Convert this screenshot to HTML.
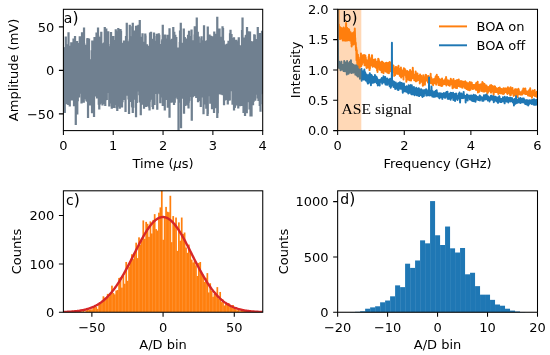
<!DOCTYPE html>
<html><head><meta charset="utf-8"><title>figure</title>
<style>html,body{margin:0;padding:0;background:#fff;width:550px;height:355px;overflow:hidden}svg{display:block}</style>
</head><body>
<svg width="550" height="355" viewBox="0 0 550 355" font-family="'DejaVu Sans', sans-serif" fill="#000"><rect width="550" height="355" fill="#fff"/>
<defs><clipPath id="clipa"><rect x="63.4" y="9.3" width="199.3" height="121.3"/></clipPath><clipPath id="clipb"><rect x="337.65" y="9.3" width="199.85" height="121.3"/></clipPath><clipPath id="clipc"><rect x="63.4" y="190.8" width="199.35" height="121.45"/></clipPath><clipPath id="clipd"><rect x="337.65" y="190.8" width="199.85" height="121.45"/></clipPath></defs>
<path d="M63.4 47.33L63.65 47.33L63.65 47.33L63.9 47.33L63.9 47.33L64.15 47.33L64.15 47.33L64.4 47.33L64.4 47.02L64.65 47.02L64.65 36.41L64.9 36.41L64.9 36.41L65.15 36.41L65.15 36.41L65.4 36.41L65.4 36.41L65.65 36.41L65.65 36.41L65.9 36.41L65.9 36.41L66.15 36.41L66.15 36.41L66.4 36.41L66.4 36.41L66.65 36.41L66.65 36.41L66.9 36.41L66.9 44.3L67.15 44.3L67.15 44.3L67.4 44.3L67.4 32.37L67.65 32.37L67.65 32.37L67.9 32.37L67.9 32.37L68.15 32.37L68.15 32.37L68.4 32.37L68.4 32.37L68.65 32.37L68.65 32.37L68.9 32.37L68.9 32.37L69.15 32.37L69.15 32.37L69.4 32.37L69.4 32.37L69.65 32.37L69.65 45.65L69.9 45.65L69.9 45.65L70.15 45.65L70.15 42.14L70.4 42.14L70.4 42.14L70.65 42.14L70.65 42.14L70.9 42.14L70.9 42.14L71.15 42.14L71.15 42.14L71.4 42.14L71.4 42.14L71.65 42.14L71.65 42.14L71.9 42.14L71.9 42.14L72.15 42.14L72.15 42.14L72.4 42.14L72.4 38.42L72.65 38.42L72.65 38.42L72.9 38.42L72.9 38.42L73.15 38.42L73.15 38.42L73.4 38.42L73.4 38.42L73.65 38.42L73.65 38.42L73.9 38.42L73.9 36L74.15 36L74.15 36L74.4 36L74.4 36L74.65 36L74.65 36L74.9 36L74.9 36L75.15 36L75.15 36L75.4 36L75.4 36L75.65 36L75.65 36L75.9 36L75.9 36L76.15 36L76.15 41.02L76.4 41.02L76.4 41.02L76.65 41.02L76.65 41.02L76.9 41.02L76.9 41.02L77.15 41.02L77.15 41.02L77.4 41.02L77.4 41.02L77.65 41.02L77.65 41.02L77.9 41.02L77.9 41.02L78.15 41.02L78.15 42.99L78.4 42.99L78.4 42.99L78.65 42.99L78.65 36.16L78.9 36.16L78.9 36.16L79.15 36.16L79.15 36.16L79.4 36.16L79.4 36.16L79.65 36.16L79.65 36.16L79.9 36.16L79.9 36.16L80.15 36.16L80.15 36.16L80.4 36.16L80.4 36.16L80.65 36.16L80.65 36.16L80.9 36.16L80.9 32.16L81.15 32.16L81.15 32.16L81.4 32.16L81.4 32.16L81.65 32.16L81.65 32.16L81.9 32.16L81.9 32.16L82.15 32.16L82.15 32.16L82.4 32.16L82.4 32.16L82.65 32.16L82.65 32.16L82.9 32.16L82.9 27.54L83.15 27.54L83.15 27.54L83.4 27.54L83.4 27.54L83.65 27.54L83.65 27.54L83.9 27.54L83.9 27.54L84.15 27.54L84.15 27.54L84.4 27.54L84.4 27.54L84.65 27.54L84.65 27.54L84.9 27.54L84.9 27.54L85.15 27.54L85.15 43.24L85.4 43.24L85.4 44.71L85.65 44.71L85.65 44.71L85.9 44.71L85.9 44.71L86.15 44.71L86.15 38.71L86.4 38.71L86.4 37.94L86.65 37.94L86.65 37.94L86.9 37.94L86.9 37.94L87.15 37.94L87.15 37.94L87.4 37.94L87.4 37.94L87.65 37.94L87.65 37.94L87.9 37.94L87.9 37.94L88.15 37.94L88.15 37.94L88.4 37.94L88.4 37.94L88.65 37.94L88.65 38.62L88.9 38.62L88.9 38.62L89.15 38.62L89.15 38.62L89.4 38.62L89.4 38.62L89.65 38.62L89.65 38.62L89.9 38.62L89.9 38.62L90.15 38.62L90.15 59.46L90.4 59.46L90.4 58.95L90.65 58.95L90.65 50.15L90.9 50.15L90.9 50.15L91.15 50.15L91.15 40.59L91.4 40.59L91.4 40.59L91.65 40.59L91.65 40.59L91.9 40.59L91.9 40.59L92.15 40.59L92.15 40.59L92.4 40.59L92.4 40.59L92.65 40.59L92.65 40.59L92.9 40.59L92.9 40.59L93.15 40.59L93.15 40.59L93.4 40.59L93.4 37.12L93.65 37.12L93.65 37.12L93.9 37.12L93.9 37.12L94.15 37.12L94.15 37.12L94.4 37.12L94.4 37.12L94.65 37.12L94.65 37.12L94.9 37.12L94.9 37.12L95.15 37.12L95.15 37.12L95.4 37.12L95.4 32.47L95.65 32.47L95.65 32.47L95.9 32.47L95.9 32.47L96.15 32.47L96.15 32.47L96.4 32.47L96.4 32.47L96.65 32.47L96.65 32.47L96.9 32.47L96.9 27.62L97.15 27.62L97.15 27.62L97.4 27.62L97.4 27.62L97.65 27.62L97.65 27.62L97.9 27.62L97.9 27.62L98.15 27.62L98.15 27.62L98.4 27.62L98.4 27.62L98.65 27.62L98.65 27.62L98.9 27.62L98.9 27.62L99.15 27.62L99.15 35.47L99.4 35.47L99.4 36.74L99.65 36.74L99.65 36.74L99.9 36.74L99.9 36.74L100.15 36.74L100.15 31.78L100.4 31.78L100.4 31.78L100.65 31.78L100.65 31.78L100.9 31.78L100.9 31.78L101.15 31.78L101.15 31.78L101.4 31.78L101.4 31.78L101.65 31.78L101.65 31.78L101.9 31.78L101.9 31.78L102.15 31.78L102.15 31.78L102.4 31.78L102.4 43.25L102.65 43.25L102.65 43.25L102.9 43.25L102.9 42.47L103.15 42.47L103.15 42.47L103.4 42.47L103.4 42.47L103.65 42.47L103.65 26.97L103.9 26.97L103.9 26.97L104.15 26.97L104.15 26.97L104.4 26.97L104.4 26.97L104.65 26.97L104.65 26.97L104.9 26.97L104.9 26.97L105.15 26.97L105.15 26.97L105.4 26.97L105.4 26.97L105.65 26.97L105.65 26.97L105.9 26.97L105.9 28.38L106.15 28.38L106.15 28.38L106.4 28.38L106.4 28.38L106.65 28.38L106.65 28.38L106.9 28.38L106.9 28.38L107.15 28.38L107.15 28.38L107.4 28.38L107.4 31.25L107.65 31.25L107.65 31.25L107.9 31.25L107.9 31.25L108.15 31.25L108.15 31.25L108.4 31.25L108.4 31.25L108.65 31.25L108.65 31.25L108.9 31.25L108.9 31.25L109.15 31.25L109.15 31.25L109.4 31.25L109.4 43.9L109.65 43.9L109.65 46.2L109.9 46.2L109.9 31.94L110.15 31.94L110.15 31.94L110.4 31.94L110.4 31.94L110.65 31.94L110.65 31.94L110.9 31.94L110.9 31.94L111.15 31.94L111.15 31.94L111.4 31.94L111.4 31.94L111.65 31.94L111.65 31.94L111.9 31.94L111.9 31.94L112.15 31.94L112.15 36.07L112.4 36.07L112.4 36.07L112.65 36.07L112.65 36.07L112.9 36.07L112.9 36.07L113.15 36.07L113.15 36.07L113.4 36.07L113.4 36.07L113.65 36.07L113.65 36.07L113.9 36.07L113.9 36.07L114.15 36.07L114.15 36.07L114.4 36.07L114.4 40.11L114.65 40.11L114.65 29.14L114.9 29.14L114.9 29.14L115.15 29.14L115.15 29.14L115.4 29.14L115.4 29.14L115.65 29.14L115.65 29.14L115.9 29.14L115.9 29.14L116.15 29.14L116.15 29.14L116.4 29.14L116.4 29.14L116.65 29.14L116.65 29.14L116.9 29.14L116.9 31.31L117.15 31.31L117.15 28L117.4 28L117.4 28L117.65 28L117.65 28L117.9 28L117.9 28L118.15 28L118.15 28L118.4 28L118.4 28L118.65 28L118.65 28L118.9 28L118.9 28L119.15 28L119.15 28L119.4 28L119.4 28.93L119.65 28.93L119.65 28.93L119.9 28.93L119.9 28.93L120.15 28.93L120.15 28.93L120.4 28.93L120.4 28.93L120.65 28.93L120.65 28.93L120.9 28.93L120.9 28.93L121.15 28.93L121.15 28.93L121.4 28.93L121.4 28.93L121.65 28.93L121.65 30.78L121.9 30.78L121.9 30.78L122.15 30.78L122.15 42.74L122.4 42.74L122.4 42.74L122.65 42.74L122.65 42.74L122.9 42.74L122.9 40.52L123.15 40.52L123.15 40.52L123.4 40.52L123.4 40.52L123.65 40.52L123.65 40.52L123.9 40.52L123.9 40.52L124.15 40.52L124.15 40.52L124.4 40.52L124.4 40.52L124.65 40.52L124.65 40.52L124.9 40.52L124.9 35.96L125.15 35.96L125.15 35.96L125.4 35.96L125.4 35.96L125.65 35.96L125.65 22.79L125.9 22.79L125.9 22.79L126.15 22.79L126.15 22.79L126.4 22.79L126.4 22.79L126.65 22.79L126.65 22.79L126.9 22.79L126.9 22.79L127.15 22.79L127.15 22.79L127.4 22.79L127.4 22.79L127.65 22.79L127.65 22.79L127.9 22.79L127.9 41.13L128.15 41.13L128.15 41.13L128.4 41.13L128.4 39.61L128.65 39.61L128.65 24.81L128.9 24.81L128.9 24.81L129.15 24.81L129.15 24.81L129.4 24.81L129.4 24.81L129.65 24.81L129.65 24.81L129.9 24.81L129.9 24.81L130.15 24.81L130.15 24.81L130.4 24.81L130.4 24.81L130.65 24.81L130.65 24.81L130.9 24.81L130.9 36.3L131.15 36.3L131.15 26.28L131.4 26.28L131.4 26.28L131.65 26.28L131.65 22.71L131.9 22.71L131.9 22.71L132.15 22.71L132.15 22.71L132.4 22.71L132.4 22.71L132.65 22.71L132.65 22.71L132.9 22.71L132.9 22.71L133.15 22.71L133.15 22.71L133.4 22.71L133.4 22.71L133.65 22.71L133.65 22.71L133.9 22.71L133.9 30.43L134.15 30.43L134.15 30.43L134.4 30.43L134.4 30.43L134.65 30.43L134.65 30.43L134.9 30.43L134.9 25.66L135.15 25.66L135.15 25.66L135.4 25.66L135.4 25.66L135.65 25.66L135.65 25.66L135.9 25.66L135.9 25.66L136.15 25.66L136.15 25.66L136.4 25.66L136.4 25.59L136.65 25.59L136.65 25.59L136.9 25.59L136.9 25.59L137.15 25.59L137.15 25.59L137.4 25.59L137.4 24.75L137.65 24.75L137.65 24.75L137.9 24.75L137.9 24.75L138.15 24.75L138.15 24.75L138.4 24.75L138.4 24.75L138.65 24.75L138.65 20.08L138.9 20.08L138.9 20.08L139.15 20.08L139.15 20.08L139.4 20.08L139.4 20.08L139.65 20.08L139.65 20.08L139.9 20.08L139.9 20.08L140.15 20.08L140.15 20.08L140.4 20.08L140.4 20.08L140.65 20.08L140.65 20.08L140.9 20.08L140.9 36.65L141.15 36.65L141.15 36.65L141.4 36.65L141.4 33.31L141.65 33.31L141.65 33.31L141.9 33.31L141.9 33.31L142.15 33.31L142.15 33.31L142.4 33.31L142.4 33.31L142.65 33.31L142.65 33.31L142.9 33.31L142.9 33.31L143.15 33.31L143.15 33.31L143.4 33.31L143.4 33.31L143.65 33.31L143.65 41.75L143.9 41.75L143.9 41.75L144.15 41.75L144.15 33.5L144.4 33.5L144.4 33.5L144.65 33.5L144.65 33.5L144.9 33.5L144.9 33.5L145.15 33.5L145.15 33.5L145.4 33.5L145.4 33.5L145.65 33.5L145.65 33.5L145.9 33.5L145.9 33.5L146.15 33.5L146.15 33.5L146.4 33.5L146.4 35.46L146.65 35.46L146.65 44.3L146.9 44.3L146.9 44.3L147.15 44.3L147.15 44.3L147.4 44.3L147.4 44.3L147.65 44.3L147.65 44.3L147.9 44.3L147.9 44.3L148.15 44.3L148.15 45.69L148.4 45.69L148.4 45.69L148.65 45.69L148.65 45.69L148.9 45.69L148.9 32.41L149.15 32.41L149.15 32.41L149.4 32.41L149.4 32.41L149.65 32.41L149.65 32.41L149.9 32.41L149.9 31.8L150.15 31.8L150.15 31.8L150.4 31.8L150.4 31.8L150.65 31.8L150.65 31.8L150.9 31.8L150.9 31.8L151.15 31.8L151.15 31.8L151.4 31.8L151.4 31.8L151.65 31.8L151.65 31.8L151.9 31.8L151.9 31.8L152.15 31.8L152.15 38.99L152.4 38.99L152.4 38.99L152.65 38.99L152.65 38.14L152.9 38.14L152.9 32.42L153.15 32.42L153.15 32.42L153.4 32.42L153.4 32.42L153.65 32.42L153.65 32.42L153.9 32.42L153.9 32.42L154.15 32.42L154.15 32.42L154.4 32.42L154.4 32.42L154.65 32.42L154.65 32.42L154.9 32.42L154.9 32.42L155.15 32.42L155.15 40.79L155.4 40.79L155.4 35.89L155.65 35.89L155.65 33.85L155.9 33.85L155.9 33.85L156.15 33.85L156.15 33.85L156.4 33.85L156.4 33.85L156.65 33.85L156.65 33.85L156.9 33.85L156.9 33.85L157.15 33.85L157.15 33.85L157.4 33.85L157.4 33.85L157.65 33.85L157.65 33.27L157.9 33.27L157.9 33.27L158.15 33.27L158.15 33.27L158.4 33.27L158.4 33.27L158.65 33.27L158.65 33.27L158.9 33.27L158.9 33.27L159.15 33.27L159.15 33.27L159.4 33.27L159.4 33.27L159.65 33.27L159.65 33.27L159.9 33.27L159.9 34.78L160.15 34.78L160.15 34.78L160.4 34.78L160.4 43.9L160.65 43.9L160.65 43.9L160.9 43.9L160.9 40.6L161.15 40.6L161.15 39.24L161.4 39.24L161.4 39.24L161.65 39.24L161.65 24.79L161.9 24.79L161.9 24.79L162.15 24.79L162.15 24.79L162.4 24.79L162.4 24.79L162.65 24.79L162.65 24.79L162.9 24.79L162.9 24.79L163.15 24.79L163.15 24.79L163.4 24.79L163.4 24.79L163.65 24.79L163.65 24.79L163.9 24.79L163.9 34.54L164.15 34.54L164.15 34.54L164.4 34.54L164.4 34.54L164.65 34.54L164.65 34.54L164.9 34.54L164.9 34.54L165.15 34.54L165.15 34.54L165.4 34.54L165.4 34.54L165.65 34.54L165.65 34.54L165.9 34.54L165.9 34.54L166.15 34.54L166.15 38.55L166.4 38.55L166.4 34.83L166.65 34.83L166.65 34.83L166.9 34.83L166.9 34.83L167.15 34.83L167.15 34.83L167.4 34.83L167.4 34.83L167.65 34.83L167.65 34.83L167.9 34.83L167.9 34.83L168.15 34.83L168.15 34.83L168.4 34.83L168.4 28.33L168.65 28.33L168.65 28.33L168.9 28.33L168.9 28.33L169.15 28.33L169.15 28.33L169.4 28.33L169.4 28.33L169.65 28.33L169.65 28.33L169.9 28.33L169.9 28.33L170.15 28.33L170.15 28.33L170.4 28.33L170.4 28.33L170.65 28.33L170.65 39.84L170.9 39.84L170.9 38.66L171.15 38.66L171.15 38.66L171.4 38.66L171.4 38.66L171.65 38.66L171.65 38.66L171.9 38.66L171.9 38.66L172.15 38.66L172.15 27.01L172.4 27.01L172.4 27.01L172.65 27.01L172.65 27.01L172.9 27.01L172.9 27.01L173.15 27.01L173.15 27.01L173.4 27.01L173.4 27.01L173.65 27.01L173.65 27.01L173.9 27.01L173.9 27.01L174.15 27.01L174.15 27.01L174.4 27.01L174.4 31.82L174.65 31.82L174.65 31.82L174.9 31.82L174.9 31.82L175.15 31.82L175.15 31.82L175.4 31.82L175.4 34.74L175.65 34.74L175.65 34.74L175.9 34.74L175.9 34.74L176.15 34.74L176.15 34.74L176.4 34.74L176.4 37.04L176.65 37.04L176.65 37.04L176.9 37.04L176.9 37.04L177.15 37.04L177.15 37.04L177.4 37.04L177.4 47.42L177.65 47.42L177.65 47.42L177.9 47.42L177.9 47.42L178.15 47.42L178.15 47.42L178.4 47.42L178.4 47.42L178.65 47.42L178.65 42.05L178.9 42.05L178.9 30.58L179.15 30.58L179.15 30.58L179.4 30.58L179.4 30.58L179.65 30.58L179.65 22.71L179.9 22.71L179.9 22.71L180.15 22.71L180.15 22.71L180.4 22.71L180.4 22.71L180.65 22.71L180.65 22.71L180.9 22.71L180.9 22.71L181.15 22.71L181.15 22.71L181.4 22.71L181.4 22.71L181.65 22.71L181.65 22.71L181.9 22.71L181.9 42.72L182.15 42.72L182.15 42.72L182.4 42.72L182.4 42.72L182.65 42.72L182.65 28.45L182.9 28.45L182.9 28.45L183.15 28.45L183.15 28.45L183.4 28.45L183.4 28.45L183.65 28.45L183.65 28.45L183.9 28.45L183.9 28.45L184.15 28.45L184.15 28.45L184.4 28.45L184.4 28.45L184.65 28.45L184.65 28.45L184.9 28.45L184.9 36.93L185.15 36.93L185.15 36.93L185.4 36.93L185.4 36.93L185.65 36.93L185.65 36.93L185.9 36.93L185.9 38.54L186.15 38.54L186.15 38.54L186.4 38.54L186.4 38.54L186.65 38.54L186.65 38.54L186.9 38.54L186.9 34.76L187.15 34.76L187.15 34.76L187.4 34.76L187.4 34.76L187.65 34.76L187.65 34.76L187.9 34.76L187.9 30.65L188.15 30.65L188.15 30.65L188.4 30.65L188.4 30.65L188.65 30.65L188.65 30.65L188.9 30.65L188.9 30.65L189.15 30.65L189.15 30.65L189.4 30.65L189.4 30.65L189.65 30.65L189.65 30.65L189.9 30.65L189.9 30.65L190.15 30.65L190.15 35.9L190.4 35.9L190.4 29.55L190.65 29.55L190.65 29.55L190.9 29.55L190.9 29.55L191.15 29.55L191.15 29.55L191.4 29.55L191.4 29.55L191.65 29.55L191.65 29.55L191.9 29.55L191.9 29.55L192.15 29.55L192.15 29.55L192.4 29.55L192.4 29.55L192.65 29.55L192.65 40.24L192.9 40.24L192.9 40.24L193.15 40.24L193.15 40.24L193.4 40.24L193.4 34.44L193.65 34.44L193.65 26.35L193.9 26.35L193.9 26.35L194.15 26.35L194.15 26.35L194.4 26.35L194.4 26.35L194.65 26.35L194.65 26.35L194.9 26.35L194.9 26.35L195.15 26.35L195.15 26.35L195.4 26.35L195.4 26.35L195.65 26.35L195.65 17.44L195.9 17.44L195.9 17.44L196.15 17.44L196.15 17.44L196.4 17.44L196.4 17.44L196.65 17.44L196.65 17.44L196.9 17.44L196.9 17.44L197.15 17.44L197.15 17.44L197.4 17.44L197.4 17.44L197.65 17.44L197.65 17.44L197.9 17.44L197.9 31.74L198.15 31.74L198.15 31.74L198.4 31.74L198.4 31.74L198.65 31.74L198.65 31.74L198.9 31.74L198.9 36.59L199.15 36.59L199.15 36.59L199.4 36.59L199.4 36.59L199.65 36.59L199.65 36.59L199.9 36.59L199.9 42.73L200.15 42.73L200.15 38.36L200.4 38.36L200.4 36.16L200.65 36.16L200.65 36.16L200.9 36.16L200.9 36.16L201.15 36.16L201.15 36.16L201.4 36.16L201.4 36.16L201.65 36.16L201.65 36.16L201.9 36.16L201.9 36.16L202.15 36.16L202.15 36.16L202.4 36.16L202.4 36.16L202.65 36.16L202.65 40.34L202.9 40.34L202.9 25.17L203.15 25.17L203.15 25.17L203.4 25.17L203.4 25.17L203.65 25.17L203.65 25.17L203.9 25.17L203.9 25.17L204.15 25.17L204.15 25.17L204.4 25.17L204.4 25.17L204.65 25.17L204.65 25.17L204.9 25.17L204.9 25.17L205.15 25.17L205.15 41.11L205.4 41.11L205.4 41.11L205.65 41.11L205.65 40.19L205.9 40.19L205.9 40.19L206.15 40.19L206.15 40.19L206.4 40.19L206.4 40.19L206.65 40.19L206.65 26.53L206.9 26.53L206.9 26.53L207.15 26.53L207.15 26.53L207.4 26.53L207.4 26.53L207.65 26.53L207.65 26.53L207.9 26.53L207.9 26.53L208.15 26.53L208.15 26.53L208.4 26.53L208.4 26.53L208.65 26.53L208.65 26.53L208.9 26.53L208.9 34.45L209.15 34.45L209.15 34.45L209.4 34.45L209.4 34.45L209.65 34.45L209.65 34.45L209.9 34.45L209.9 34.45L210.15 34.45L210.15 34.45L210.4 34.45L210.4 34.45L210.65 34.45L210.65 35.71L210.9 35.71L210.9 35.71L211.15 35.71L211.15 35.71L211.4 35.71L211.4 35.71L211.65 35.71L211.65 35.71L211.9 35.71L211.9 35.71L212.15 35.71L212.15 36.16L212.4 36.16L212.4 36.16L212.65 36.16L212.65 36.16L212.9 36.16L212.9 36.16L213.15 36.16L213.15 31.54L213.4 31.54L213.4 31.54L213.65 31.54L213.65 31.54L213.9 31.54L213.9 31.54L214.15 31.54L214.15 31.54L214.4 31.54L214.4 31.54L214.65 31.54L214.65 31.54L214.9 31.54L214.9 31.54L215.15 31.54L215.15 31.54L215.4 31.54L215.4 33.79L215.65 33.79L215.65 33.79L215.9 33.79L215.9 33.79L216.15 33.79L216.15 16.69L216.4 16.69L216.4 16.69L216.65 16.69L216.65 16.69L216.9 16.69L216.9 16.69L217.15 16.69L217.15 16.69L217.4 16.69L217.4 16.69L217.65 16.69L217.65 16.69L217.9 16.69L217.9 16.69L218.15 16.69L218.15 16.69L218.4 16.69L218.4 28.54L218.65 28.54L218.65 28.54L218.9 28.54L218.9 28.54L219.15 28.54L219.15 28.54L219.4 28.54L219.4 28.54L219.65 28.54L219.65 28.54L219.9 28.54L219.9 28.54L220.15 28.54L220.15 28.54L220.4 28.54L220.4 28.54L220.65 28.54L220.65 36.87L220.9 36.87L220.9 36.87L221.15 36.87L221.15 36.87L221.4 36.87L221.4 26.15L221.65 26.15L221.65 26.15L221.9 26.15L221.9 26.15L222.15 26.15L222.15 26.15L222.4 26.15L222.4 26.15L222.65 26.15L222.65 26.15L222.9 26.15L222.9 26.15L223.15 26.15L223.15 26.15L223.4 26.15L223.4 26.15L223.65 26.15L223.65 28L223.9 28L223.9 28L224.15 28L224.15 40.41L224.4 40.41L224.4 40.41L224.65 40.41L224.65 40.41L224.9 40.41L224.9 44.48L225.15 44.48L225.15 44.48L225.4 44.48L225.4 44.48L225.65 44.48L225.65 43.79L225.9 43.79L225.9 43.79L226.15 43.79L226.15 43.79L226.4 43.79L226.4 43.79L226.65 43.79L226.65 43.79L226.9 43.79L226.9 43.59L227.15 43.59L227.15 43.59L227.4 43.59L227.4 40.85L227.65 40.85L227.65 40.85L227.9 40.85L227.9 40.85L228.15 40.85L228.15 40.85L228.4 40.85L228.4 40.85L228.65 40.85L228.65 40.85L228.9 40.85L228.9 33.2L229.15 33.2L229.15 33.2L229.4 33.2L229.4 29.78L229.65 29.78L229.65 29.78L229.9 29.78L229.9 29.78L230.15 29.78L230.15 29.78L230.4 29.78L230.4 29.78L230.65 29.78L230.65 29.78L230.9 29.78L230.9 29.78L231.15 29.78L231.15 29.78L231.4 29.78L231.4 29.78L231.65 29.78L231.65 33.9L231.9 33.9L231.9 33.9L232.15 33.9L232.15 33.9L232.4 33.9L232.4 33.9L232.65 33.9L232.65 38.09L232.9 38.09L232.9 37.14L233.15 37.14L233.15 37.14L233.4 37.14L233.4 37.14L233.65 37.14L233.65 37.14L233.9 37.14L233.9 37.14L234.15 37.14L234.15 37.14L234.4 37.14L234.4 37.14L234.65 37.14L234.65 37.14L234.9 37.14L234.9 37.14L235.15 37.14L235.15 39.83L235.4 39.83L235.4 39.83L235.65 39.83L235.65 39.83L235.9 39.83L235.9 39.83L236.15 39.83L236.15 39.83L236.4 39.83L236.4 39.83L236.65 39.83L236.65 39.83L236.9 39.83L236.9 39.83L237.15 39.83L237.15 39.83L237.4 39.83L237.4 41.16L237.65 41.16L237.65 37.23L237.9 37.23L237.9 37.23L238.15 37.23L238.15 37.23L238.4 37.23L238.4 37.23L238.65 37.23L238.65 37.23L238.9 37.23L238.9 37.23L239.15 37.23L239.15 37.23L239.4 37.23L239.4 37.23L239.65 37.23L239.65 37.23L239.9 37.23L239.9 45.35L240.15 45.35L240.15 45.35L240.4 45.35L240.4 45.35L240.65 45.35L240.65 45.35L240.9 45.35L240.9 30.02L241.15 30.02L241.15 30.02L241.4 30.02L241.4 17.4L241.65 17.4L241.65 17.4L241.9 17.4L241.9 17.4L242.15 17.4L242.15 17.4L242.4 17.4L242.4 17.4L242.65 17.4L242.65 17.4L242.9 17.4L242.9 17.4L243.15 17.4L243.15 17.4L243.4 17.4L243.4 17.4L243.65 17.4L243.65 37.42L243.9 37.42L243.9 37.42L244.15 37.42L244.15 37.42L244.4 37.42L244.4 37.42L244.65 37.42L244.65 35.2L244.9 35.2L244.9 35.2L245.15 35.2L245.15 34.83L245.4 34.83L245.4 34.83L245.65 34.83L245.65 34.83L245.9 34.83L245.9 27.06L246.15 27.06L246.15 27.06L246.4 27.06L246.4 27.06L246.65 27.06L246.65 27.06L246.9 27.06L246.9 27.06L247.15 27.06L247.15 27.06L247.4 27.06L247.4 27.06L247.65 27.06L247.65 27.06L247.9 27.06L247.9 27.06L248.15 27.06L248.15 31.18L248.4 31.18L248.4 31.18L248.65 31.18L248.65 31.18L248.9 31.18L248.9 31.18L249.15 31.18L249.15 31.18L249.4 31.18L249.4 31.18L249.65 31.18L249.65 31.58L249.9 31.58L249.9 31.58L250.15 31.58L250.15 31.58L250.4 31.58L250.4 31.58L250.65 31.58L250.65 31.58L250.9 31.58L250.9 31.58L251.15 31.58L251.15 40.98L251.4 40.98L251.4 40.98L251.65 40.98L251.65 40.98L251.9 40.98L251.9 41.75L252.15 41.75L252.15 41.75L252.4 41.75L252.4 40.93L252.65 40.93L252.65 40.93L252.9 40.93L252.9 40.93L253.15 40.93L253.15 34.37L253.4 34.37L253.4 34.37L253.65 34.37L253.65 34.37L253.9 34.37L253.9 34.37L254.15 34.37L254.15 34.37L254.4 34.37L254.4 34.37L254.65 34.37L254.65 34.37L254.9 34.37L254.9 34.37L255.15 34.37L255.15 34.37L255.4 34.37L255.4 34.78L255.65 34.78L255.65 34.78L255.9 34.78L255.9 39.13L256.15 39.13L256.15 39.12L256.4 39.12L256.4 39.12L256.65 39.12L256.65 27.01L256.9 27.01L256.9 27.01L257.15 27.01L257.15 27.01L257.4 27.01L257.4 27.01L257.65 27.01L257.65 27.01L257.9 27.01L257.9 27.01L258.15 27.01L258.15 27.01L258.4 27.01L258.4 27.01L258.65 27.01L258.65 27.01L258.9 27.01L258.9 33L259.15 33L259.15 33L259.4 33L259.4 33L259.65 33L259.65 33L259.9 33L259.9 33L260.15 33L260.15 33L260.4 33L260.4 33L260.65 33L260.65 33L260.9 33L260.9 30.8L261.15 30.8L261.15 30.8L261.4 30.8L261.4 30.8L261.65 30.8L261.65 30.8L261.9 30.8L261.9 30.8L262.15 30.8L262.15 30.8L262.4 30.8L262.4 30.8L262.65 30.8L262.65 30.8L262.9 30.8L262.9 93.16L262.65 93.16L262.65 94.37L262.4 94.37L262.4 94.37L262.15 94.37L262.15 94.37L261.9 94.37L261.9 104.32L261.65 104.32L261.65 111.74L261.4 111.74L261.4 111.74L261.15 111.74L261.15 111.74L260.9 111.74L260.9 111.74L260.65 111.74L260.65 111.74L260.4 111.74L260.4 111.74L260.15 111.74L260.15 111.74L259.9 111.74L259.9 111.74L259.65 111.74L259.65 111.74L259.4 111.74L259.4 106.06L259.15 106.06L259.15 106.06L258.9 106.06L258.9 106.06L258.65 106.06L258.65 101.07L258.4 101.07L258.4 101.07L258.15 101.07L258.15 101.07L257.9 101.07L257.9 101.07L257.65 101.07L257.65 101.07L257.4 101.07L257.4 98.55L257.15 98.55L257.15 98.55L256.9 98.55L256.9 98.55L256.65 98.55L256.65 94.85L256.4 94.85L256.4 100.7L256.15 100.7L256.15 100.7L255.9 100.7L255.9 100.7L255.65 100.7L255.65 100.7L255.4 100.7L255.4 100.7L255.15 100.7L255.15 100.7L254.9 100.7L254.9 100.7L254.65 100.7L254.65 101.98L254.4 101.98L254.4 101.98L254.15 101.98L254.15 105.16L253.9 105.16L253.9 105.16L253.65 105.16L253.65 105.16L253.4 105.16L253.4 105.16L253.15 105.16L253.15 105.16L252.9 105.16L252.9 105.16L252.65 105.16L252.65 116.55L252.4 116.55L252.4 116.55L252.15 116.55L252.15 116.55L251.9 116.55L251.9 116.55L251.65 116.55L251.65 116.55L251.4 116.55L251.4 116.55L251.15 116.55L251.15 116.55L250.9 116.55L250.9 116.55L250.65 116.55L250.65 116.55L250.4 116.55L250.4 116.41L250.15 116.41L250.15 116.41L249.9 116.41L249.9 116.41L249.65 116.41L249.65 116.41L249.4 116.41L249.4 109.47L249.15 109.47L249.15 109.47L248.9 109.47L248.9 109.47L248.65 109.47L248.65 109.47L248.4 109.47L248.4 102.16L248.15 102.16L248.15 102.16L247.9 102.16L247.9 113.35L247.65 113.35L247.65 113.35L247.4 113.35L247.4 113.35L247.15 113.35L247.15 113.35L246.9 113.35L246.9 113.35L246.65 113.35L246.65 113.35L246.4 113.35L246.4 113.35L246.15 113.35L246.15 116.02L245.9 116.02L245.9 116.02L245.65 116.02L245.65 116.02L245.4 116.02L245.4 116.02L245.15 116.02L245.15 116.02L244.9 116.02L244.9 116.02L244.65 116.02L244.65 116.02L244.4 116.02L244.4 116.02L244.15 116.02L244.15 116.02L243.9 116.02L243.9 113.08L243.65 113.08L243.65 113.08L243.4 113.08L243.4 113.08L243.15 113.08L243.15 113.08L242.9 113.08L242.9 113.08L242.65 113.08L242.65 113.08L242.4 113.08L242.4 106.04L242.15 106.04L242.15 106.04L241.9 106.04L241.9 106.04L241.65 106.04L241.65 106.04L241.4 106.04L241.4 106.04L241.15 106.04L241.15 106.21L240.9 106.21L240.9 106.21L240.65 106.21L240.65 106.21L240.4 106.21L240.4 106.21L240.15 106.21L240.15 106.21L239.9 106.21L239.9 106.21L239.65 106.21L239.65 106.21L239.4 106.21L239.4 108.45L239.15 108.45L239.15 108.45L238.9 108.45L238.9 108.45L238.65 108.45L238.65 108.45L238.4 108.45L238.4 108.45L238.15 108.45L238.15 108.45L237.9 108.45L237.9 108.45L237.65 108.45L237.65 108.45L237.4 108.45L237.4 108.45L237.15 108.45L237.15 105.56L236.9 105.56L236.9 105.56L236.65 105.56L236.65 105.56L236.4 105.56L236.4 105.56L236.15 105.56L236.15 106.63L235.9 106.63L235.9 107.89L235.65 107.89L235.65 107.89L235.4 107.89L235.4 107.89L235.15 107.89L235.15 110.41L234.9 110.41L234.9 110.41L234.65 110.41L234.65 110.41L234.4 110.41L234.4 110.41L234.15 110.41L234.15 110.41L233.9 110.41L233.9 110.41L233.65 110.41L233.65 110.41L233.4 110.41L233.4 110.41L233.15 110.41L233.15 110.41L232.9 110.41L232.9 104.68L232.65 104.68L232.65 104.68L232.4 104.68L232.4 104.68L232.15 104.68L232.15 104.68L231.9 104.68L231.9 104.68L231.65 104.68L231.65 104.68L231.4 104.68L231.4 91.17L231.15 91.17L231.15 91.17L230.9 91.17L230.9 100.4L230.65 100.4L230.65 100.4L230.4 100.4L230.4 100.4L230.15 100.4L230.15 100.4L229.9 100.4L229.9 100.4L229.65 100.4L229.65 100.71L229.4 100.71L229.4 100.71L229.15 100.71L229.15 100.71L228.9 100.71L228.9 104.54L228.65 104.54L228.65 104.54L228.4 104.54L228.4 104.54L228.15 104.54L228.15 104.54L227.9 104.54L227.9 104.54L227.65 104.54L227.65 104.54L227.4 104.54L227.4 104.54L227.15 104.54L227.15 104.54L226.9 104.54L226.9 104.54L226.65 104.54L226.65 100.05L226.4 100.05L226.4 100.05L226.15 100.05L226.15 100.59L225.9 100.59L225.9 100.59L225.65 100.59L225.65 100.59L225.4 100.59L225.4 100.59L225.15 100.59L225.15 105.14L224.9 105.14L224.9 105.14L224.65 105.14L224.65 105.14L224.4 105.14L224.4 105.14L224.15 105.14L224.15 105.14L223.9 105.14L223.9 105.14L223.65 105.14L223.65 105.14L223.4 105.14L223.4 105.14L223.15 105.14L223.15 105.14L222.9 105.14L222.9 95.23L222.65 95.23L222.65 95.23L222.4 95.23L222.4 95.23L222.15 95.23L222.15 95.23L221.9 95.23L221.9 95.23L221.65 95.23L221.65 94.67L221.4 94.67L221.4 94.67L221.15 94.67L221.15 94.67L220.9 94.67L220.9 94.67L220.65 94.67L220.65 94.62L220.4 94.62L220.4 94.62L220.15 94.62L220.15 94.62L219.9 94.62L219.9 94.62L219.65 94.62L219.65 94.62L219.4 94.62L219.4 94.23L219.15 94.23L219.15 94.23L218.9 94.23L218.9 113.28L218.65 113.28L218.65 113.28L218.4 113.28L218.4 117.98L218.15 117.98L218.15 117.98L217.9 117.98L217.9 117.98L217.65 117.98L217.65 117.98L217.4 117.98L217.4 117.98L217.15 117.98L217.15 117.98L216.9 117.98L216.9 117.98L216.65 117.98L216.65 117.98L216.4 117.98L216.4 117.98L216.15 117.98L216.15 108.28L215.9 108.28L215.9 108.28L215.65 108.28L215.65 108.28L215.4 108.28L215.4 108.28L215.15 108.28L215.15 113.11L214.9 113.11L214.9 113.11L214.65 113.11L214.65 113.11L214.4 113.11L214.4 113.11L214.15 113.11L214.15 113.11L213.9 113.11L213.9 113.11L213.65 113.11L213.65 113.11L213.4 113.11L213.4 113.11L213.15 113.11L213.15 113.11L212.9 113.11L212.9 109.15L212.65 109.15L212.65 109.15L212.4 109.15L212.4 109.15L212.15 109.15L212.15 109.15L211.9 109.15L211.9 109.15L211.65 109.15L211.65 109.15L211.4 109.15L211.4 109.15L211.15 109.15L211.15 109.15L210.9 109.15L210.9 103.72L210.65 103.72L210.65 103.72L210.4 103.72L210.4 103.72L210.15 103.72L210.15 103.72L209.9 103.72L209.9 103.72L209.65 103.72L209.65 103.72L209.4 103.72L209.4 103.72L209.15 103.72L209.15 96.34L208.9 96.34L208.9 114.08L208.65 114.08L208.65 116.04L208.4 116.04L208.4 116.04L208.15 116.04L208.15 116.04L207.9 116.04L207.9 116.04L207.65 116.04L207.65 116.04L207.4 116.04L207.4 116.04L207.15 116.04L207.15 116.04L206.9 116.04L206.9 116.04L206.65 116.04L206.65 116.04L206.4 116.04L206.4 108.66L206.15 108.66L206.15 108.66L205.9 108.66L205.9 108.66L205.65 108.66L205.65 108.66L205.4 108.66L205.4 108.66L205.15 108.66L205.15 104.49L204.9 104.49L204.9 104.49L204.65 104.49L204.65 114.23L204.4 114.23L204.4 114.23L204.15 114.23L204.15 114.23L203.9 114.23L203.9 114.23L203.65 114.23L203.65 114.23L203.4 114.23L203.4 114.23L203.15 114.23L203.15 114.23L202.9 114.23L202.9 114.23L202.65 114.23L202.65 114.23L202.4 114.23L202.4 97.57L202.15 97.57L202.15 97.57L201.9 97.57L201.9 106.91L201.65 106.91L201.65 106.91L201.4 106.91L201.4 106.91L201.15 106.91L201.15 106.91L200.9 106.91L200.9 106.91L200.65 106.91L200.65 106.91L200.4 106.91L200.4 106.91L200.15 106.91L200.15 106.91L199.9 106.91L199.9 106.91L199.65 106.91L199.65 101.01L199.4 101.01L199.4 101.01L199.15 101.01L199.15 102.2L198.9 102.2L198.9 102.2L198.65 102.2L198.65 102.2L198.4 102.2L198.4 102.2L198.15 102.2L198.15 102.2L197.9 102.2L197.9 102.2L197.65 102.2L197.65 102.2L197.4 102.2L197.4 102.2L197.15 102.2L197.15 102.2L196.9 102.2L196.9 98.03L196.65 98.03L196.65 98.03L196.4 98.03L196.4 98.03L196.15 98.03L196.15 98.03L195.9 98.03L195.9 98.03L195.65 98.03L195.65 98.03L195.4 98.03L195.4 98.03L195.15 98.03L195.15 96.21L194.9 96.21L194.9 96.21L194.65 96.21L194.65 96.21L194.4 96.21L194.4 96.21L194.15 96.21L194.15 96.21L193.9 96.21L193.9 97.25L193.65 97.25L193.65 97.25L193.4 97.25L193.4 97.25L193.15 97.25L193.15 97.25L192.9 97.25L192.9 120.75L192.65 120.75L192.65 120.75L192.4 120.75L192.4 120.75L192.15 120.75L192.15 120.75L191.9 120.75L191.9 120.75L191.65 120.75L191.65 120.75L191.4 120.75L191.4 120.75L191.15 120.75L191.15 120.75L190.9 120.75L190.9 120.75L190.65 120.75L190.65 97.07L190.4 97.07L190.4 100.85L190.15 100.85L190.15 100.85L189.9 100.85L189.9 102.85L189.65 102.85L189.65 108.44L189.4 108.44L189.4 108.44L189.15 108.44L189.15 108.44L188.9 108.44L188.9 108.44L188.65 108.44L188.65 108.44L188.4 108.44L188.4 108.44L188.15 108.44L188.15 108.44L187.9 108.44L187.9 108.44L187.65 108.44L187.65 108.44L187.4 108.44L187.4 105.59L187.15 105.59L187.15 105.59L186.9 105.59L186.9 105.59L186.65 105.59L186.65 104.78L186.4 104.78L186.4 106.06L186.15 106.06L186.15 106.06L185.9 106.06L185.9 106.06L185.65 106.06L185.65 106.06L185.4 106.06L185.4 106.06L185.15 106.06L185.15 113.72L184.9 113.72L184.9 113.72L184.65 113.72L184.65 113.72L184.4 113.72L184.4 113.72L184.15 113.72L184.15 113.72L183.9 113.72L183.9 113.72L183.65 113.72L183.65 113.72L183.4 113.72L183.4 113.72L183.15 113.72L183.15 113.72L182.9 113.72L182.9 98.66L182.65 98.66L182.65 98.66L182.4 98.66L182.4 98.66L182.15 98.66L182.15 128.35L181.9 128.35L181.9 128.35L181.65 128.35L181.65 128.35L181.4 128.35L181.4 128.35L181.15 128.35L181.15 128.35L180.9 128.35L180.9 128.35L180.65 128.35L180.65 128.35L180.4 128.35L180.4 128.35L180.15 128.35L180.15 128.35L179.9 128.35L179.9 102.64L179.65 102.64L179.65 131.6L179.4 131.6L179.4 131.6L179.15 131.6L179.15 131.6L178.9 131.6L178.9 131.6L178.65 131.6L178.65 131.6L178.4 131.6L178.4 131.6L178.15 131.6L178.15 131.6L177.9 131.6L177.9 131.6L177.65 131.6L177.65 131.6L177.4 131.6L177.4 99.28L177.15 99.28L177.15 99.28L176.9 99.28L176.9 99.28L176.65 99.28L176.65 99.28L176.4 99.28L176.4 97.69L176.15 97.69L176.15 97.69L175.9 97.69L175.9 102.84L175.65 102.84L175.65 102.84L175.4 102.84L175.4 102.84L175.15 102.84L175.15 104.88L174.9 104.88L174.9 104.88L174.65 104.88L174.65 104.88L174.4 104.88L174.4 104.88L174.15 104.88L174.15 104.88L173.9 104.88L173.9 104.88L173.65 104.88L173.65 104.88L173.4 104.88L173.4 104.88L173.15 104.88L173.15 104.88L172.9 104.88L172.9 102.8L172.65 102.8L172.65 102.8L172.4 102.8L172.4 102.18L172.15 102.18L172.15 102.69L171.9 102.69L171.9 102.69L171.65 102.69L171.65 102.69L171.4 102.69L171.4 102.69L171.15 102.69L171.15 102.69L170.9 102.69L170.9 102.69L170.65 102.69L170.65 117.85L170.4 117.85L170.4 117.85L170.15 117.85L170.15 117.85L169.9 117.85L169.9 117.85L169.65 117.85L169.65 117.85L169.4 117.85L169.4 117.85L169.15 117.85L169.15 117.85L168.9 117.85L168.9 117.85L168.65 117.85L168.65 117.85L168.4 117.85L168.4 107.79L168.15 107.79L168.15 107.79L167.9 107.79L167.9 107.79L167.65 107.79L167.65 107.79L167.4 107.79L167.4 107.79L167.15 107.79L167.15 107.79L166.9 107.79L166.9 107.79L166.65 107.79L166.65 99.92L166.4 99.92L166.4 99.92L166.15 99.92L166.15 99.92L165.9 99.92L165.9 110.48L165.65 110.48L165.65 110.48L165.4 110.48L165.4 110.48L165.15 110.48L165.15 110.48L164.9 110.48L164.9 110.48L164.65 110.48L164.65 110.48L164.4 110.48L164.4 110.48L164.15 110.48L164.15 110.48L163.9 110.48L163.9 110.48L163.65 110.48L163.65 105.89L163.4 105.89L163.4 105.89L163.15 105.89L163.15 105.89L162.9 105.89L162.9 105.89L162.65 105.89L162.65 105.89L162.4 105.89L162.4 105.89L162.15 105.89L162.15 105.89L161.9 105.89L161.9 105.89L161.65 105.89L161.65 97.47L161.4 97.47L161.4 103.21L161.15 103.21L161.15 103.21L160.9 103.21L160.9 103.21L160.65 103.21L160.65 103.21L160.4 103.21L160.4 103.21L160.15 103.21L160.15 103.21L159.9 103.21L159.9 103.21L159.65 103.21L159.65 103.21L159.4 103.21L159.4 103.21L159.15 103.21L159.15 94.35L158.9 94.35L158.9 94.35L158.65 94.35L158.65 93.42L158.4 93.42L158.4 109.73L158.15 109.73L158.15 109.73L157.9 109.73L157.9 109.73L157.65 109.73L157.65 109.73L157.4 109.73L157.4 109.73L157.15 109.73L157.15 109.73L156.9 109.73L156.9 109.73L156.65 109.73L156.65 109.73L156.4 109.73L156.4 109.73L156.15 109.73L156.15 93.88L155.9 93.88L155.9 93.88L155.65 93.88L155.65 105.04L155.4 105.04L155.4 105.04L155.15 105.04L155.15 105.04L154.9 105.04L154.9 105.04L154.65 105.04L154.65 105.04L154.4 105.04L154.4 105.04L154.15 105.04L154.15 109.27L153.9 109.27L153.9 109.27L153.65 109.27L153.65 109.27L153.4 109.27L153.4 109.27L153.15 109.27L153.15 109.27L152.9 109.27L152.9 109.27L152.65 109.27L152.65 109.27L152.4 109.27L152.4 109.27L152.15 109.27L152.15 109.27L151.9 109.27L151.9 106.99L151.65 106.99L151.65 106.99L151.4 106.99L151.4 99.82L151.15 99.82L151.15 99.82L150.9 99.82L150.9 101.75L150.65 101.75L150.65 110.6L150.4 110.6L150.4 110.6L150.15 110.6L150.15 110.6L149.9 110.6L149.9 110.6L149.65 110.6L149.65 110.6L149.4 110.6L149.4 110.6L149.15 110.6L149.15 110.6L148.9 110.6L148.9 110.6L148.65 110.6L148.65 110.6L148.4 110.6L148.4 107.77L148.15 107.77L148.15 106.59L147.9 106.59L147.9 106.59L147.65 106.59L147.65 106.59L147.4 106.59L147.4 106.59L147.15 106.59L147.15 106.88L146.9 106.88L146.9 106.88L146.65 106.88L146.65 106.88L146.4 106.88L146.4 106.88L146.15 106.88L146.15 106.88L145.9 106.88L145.9 106.88L145.65 106.88L145.65 106.88L145.4 106.88L145.4 106.88L145.15 106.88L145.15 108.73L144.9 108.73L144.9 108.73L144.65 108.73L144.65 108.73L144.4 108.73L144.4 108.73L144.15 108.73L144.15 108.73L143.9 108.73L143.9 108.73L143.65 108.73L143.65 108.73L143.4 108.73L143.4 108.73L143.15 108.73L143.15 108.73L142.9 108.73L142.9 104.71L142.65 104.71L142.65 104.71L142.4 104.71L142.4 104.71L142.15 104.71L142.15 104.71L141.9 104.71L141.9 115.18L141.65 115.18L141.65 115.18L141.4 115.18L141.4 115.18L141.15 115.18L141.15 115.18L140.9 115.18L140.9 115.18L140.65 115.18L140.65 115.18L140.4 115.18L140.4 115.18L140.15 115.18L140.15 115.18L139.9 115.18L139.9 115.18L139.65 115.18L139.65 102.59L139.4 102.59L139.4 102.59L139.15 102.59L139.15 102.59L138.9 102.59L138.9 102.59L138.65 102.59L138.65 95.27L138.4 95.27L138.4 95.27L138.15 95.27L138.15 91.51L137.9 91.51L137.9 102.97L137.65 102.97L137.65 102.97L137.4 102.97L137.4 102.97L137.15 102.97L137.15 117.25L136.9 117.25L136.9 117.25L136.65 117.25L136.65 117.25L136.4 117.25L136.4 117.25L136.15 117.25L136.15 117.25L135.9 117.25L135.9 117.25L135.65 117.25L135.65 117.25L135.4 117.25L135.4 117.25L135.15 117.25L135.15 117.25L134.9 117.25L134.9 99.74L134.65 99.74L134.65 99.74L134.4 99.74L134.4 107.7L134.15 107.7L134.15 107.7L133.9 107.7L133.9 112.99L133.65 112.99L133.65 112.99L133.4 112.99L133.4 112.99L133.15 112.99L133.15 112.99L132.9 112.99L132.9 112.99L132.65 112.99L132.65 112.99L132.4 112.99L132.4 112.99L132.15 112.99L132.15 112.99L131.9 112.99L131.9 112.99L131.65 112.99L131.65 107.51L131.4 107.51L131.4 107.51L131.15 107.51L131.15 106.65L130.9 106.65L130.9 101.91L130.65 101.91L130.65 101.91L130.4 101.91L130.4 101.91L130.15 101.91L130.15 114.03L129.9 114.03L129.9 114.03L129.65 114.03L129.65 114.03L129.4 114.03L129.4 114.03L129.15 114.03L129.15 114.03L128.9 114.03L128.9 114.03L128.65 114.03L128.65 114.03L128.4 114.03L128.4 114.03L128.15 114.03L128.15 114.03L127.9 114.03L127.9 99.43L127.65 99.43L127.65 99.43L127.4 99.43L127.4 95.85L127.15 95.85L127.15 95.85L126.9 95.85L126.9 95.85L126.65 95.85L126.65 111.92L126.4 111.92L126.4 111.92L126.15 111.92L126.15 111.92L125.9 111.92L125.9 111.92L125.65 111.92L125.65 111.92L125.4 111.92L125.4 111.92L125.15 111.92L125.15 111.92L124.9 111.92L124.9 111.92L124.65 111.92L124.65 111.92L124.4 111.92L124.4 100.08L124.15 100.08L124.15 100.08L123.9 100.08L123.9 100.08L123.65 100.08L123.65 102.33L123.4 102.33L123.4 102.33L123.15 102.33L123.15 107.46L122.9 107.46L122.9 107.46L122.65 107.46L122.65 107.46L122.4 107.46L122.4 107.46L122.15 107.46L122.15 107.46L121.9 107.46L121.9 107.46L121.65 107.46L121.65 107.46L121.4 107.46L121.4 107.46L121.15 107.46L121.15 107.46L120.9 107.46L120.9 108.86L120.65 108.86L120.65 108.86L120.4 108.86L120.4 108.86L120.15 108.86L120.15 108.86L119.9 108.86L119.9 108.86L119.65 108.86L119.65 108.86L119.4 108.86L119.4 108.86L119.15 108.86L119.15 108.86L118.9 108.86L118.9 108.86L118.65 108.86L118.65 106.66L118.4 106.66L118.4 111.05L118.15 111.05L118.15 111.05L117.9 111.05L117.9 111.05L117.65 111.05L117.65 111.05L117.4 111.05L117.4 111.05L117.15 111.05L117.15 111.05L116.9 111.05L116.9 111.05L116.65 111.05L116.65 111.05L116.4 111.05L116.4 111.05L116.15 111.05L116.15 108.16L115.9 108.16L115.9 108.16L115.65 108.16L115.65 108.16L115.4 108.16L115.4 105.04L115.15 105.04L115.15 107.96L114.9 107.96L114.9 107.96L114.65 107.96L114.65 107.96L114.4 107.96L114.4 107.96L114.15 107.96L114.15 107.96L113.9 107.96L113.9 107.96L113.65 107.96L113.65 107.96L113.4 107.96L113.4 107.96L113.15 107.96L113.15 107.96L112.9 107.96L112.9 108.64L112.65 108.64L112.65 108.64L112.4 108.64L112.4 108.64L112.15 108.64L112.15 108.64L111.9 108.64L111.9 108.64L111.65 108.64L111.65 108.64L111.4 108.64L111.4 108.64L111.15 108.64L111.15 108.64L110.9 108.64L110.9 108.64L110.65 108.64L110.65 103.59L110.4 103.59L110.4 106.56L110.15 106.56L110.15 106.56L109.9 106.56L109.9 106.56L109.65 106.56L109.65 106.56L109.4 106.56L109.4 106.56L109.15 106.56L109.15 106.56L108.9 106.56L108.9 106.56L108.65 106.56L108.65 106.56L108.4 106.56L108.4 106.56L108.15 106.56L108.15 93.1L107.9 93.1L107.9 100.07L107.65 100.07L107.65 100.07L107.4 100.07L107.4 100.07L107.15 100.07L107.15 100.07L106.9 100.07L106.9 100.07L106.65 100.07L106.65 100.61L106.4 100.61L106.4 106.01L106.15 106.01L106.15 106.01L105.9 106.01L105.9 106.01L105.65 106.01L105.65 106.01L105.4 106.01L105.4 106.01L105.15 106.01L105.15 106.01L104.9 106.01L104.9 106.01L104.65 106.01L104.65 106.01L104.4 106.01L104.4 106.01L104.15 106.01L104.15 103.98L103.9 103.98L103.9 103.98L103.65 103.98L103.65 105.62L103.4 105.62L103.4 105.62L103.15 105.62L103.15 105.62L102.9 105.62L102.9 105.62L102.65 105.62L102.65 105.62L102.4 105.62L102.4 105.62L102.15 105.62L102.15 105.62L101.9 105.62L101.9 105.62L101.65 105.62L101.65 105.62L101.4 105.62L101.4 103.56L101.15 103.56L101.15 104.39L100.9 104.39L100.9 104.39L100.65 104.39L100.65 104.39L100.4 104.39L100.4 109.47L100.15 109.47L100.15 109.47L99.9 109.47L99.9 109.47L99.65 109.47L99.65 109.47L99.4 109.47L99.4 109.47L99.15 109.47L99.15 109.47L98.9 109.47L98.9 109.47L98.65 109.47L98.65 109.47L98.4 109.47L98.4 109.47L98.15 109.47L98.15 104.8L97.9 104.8L97.9 104.8L97.65 104.8L97.65 98.5L97.4 98.5L97.4 98.5L97.15 98.5L97.15 98.5L96.9 98.5L96.9 98.5L96.65 98.5L96.65 98.5L96.4 98.5L96.4 98.5L96.15 98.5L96.15 98.5L95.9 98.5L95.9 96.46L95.65 96.46L95.65 96.46L95.4 96.46L95.4 96.46L95.15 96.46L95.15 116.92L94.9 116.92L94.9 116.92L94.65 116.92L94.65 116.92L94.4 116.92L94.4 116.92L94.15 116.92L94.15 116.92L93.9 116.92L93.9 116.92L93.65 116.92L93.65 116.92L93.4 116.92L93.4 116.92L93.15 116.92L93.15 116.92L92.9 116.92L92.9 113.16L92.65 113.16L92.65 113.16L92.4 113.16L92.4 113.16L92.15 113.16L92.15 113.16L91.9 113.16L91.9 113.16L91.65 113.16L91.65 113.16L91.4 113.16L91.4 113.16L91.15 113.16L91.15 113.16L90.9 113.16L90.9 105.6L90.65 105.6L90.65 105.6L90.4 105.6L90.4 105.6L90.15 105.6L90.15 105.6L89.9 105.6L89.9 105.6L89.65 105.6L89.65 105.6L89.4 105.6L89.4 105.6L89.15 105.6L89.15 117.9L88.9 117.9L88.9 117.9L88.65 117.9L88.65 117.9L88.4 117.9L88.4 117.9L88.15 117.9L88.15 117.9L87.9 117.9L87.9 117.9L87.65 117.9L87.65 117.9L87.4 117.9L87.4 117.9L87.15 117.9L87.15 117.9L86.9 117.9L86.9 101.63L86.65 101.63L86.65 101.63L86.4 101.63L86.4 101.63L86.15 101.63L86.15 101.15L85.9 101.15L85.9 101.15L85.65 101.15L85.65 101.15L85.4 101.15L85.4 99.75L85.15 99.75L85.15 98.92L84.9 98.92L84.9 102.68L84.65 102.68L84.65 102.68L84.4 102.68L84.4 102.68L84.15 102.68L84.15 102.68L83.9 102.68L83.9 102.68L83.65 102.68L83.65 102.68L83.4 102.68L83.4 102.68L83.15 102.68L83.15 102.68L82.9 102.68L82.9 102.68L82.65 102.68L82.65 103.47L82.4 103.47L82.4 103.47L82.15 103.47L82.15 103.47L81.9 103.47L81.9 103.47L81.65 103.47L81.65 103.47L81.4 103.47L81.4 103.47L81.15 103.47L81.15 103.47L80.9 103.47L80.9 103.47L80.65 103.47L80.65 103.47L80.4 103.47L80.4 93.66L80.15 93.66L80.15 97.62L79.9 97.62L79.9 97.62L79.65 97.62L79.65 97.62L79.4 97.62L79.4 97.62L79.15 97.62L79.15 97.62L78.9 97.62L78.9 101.32L78.65 101.32L78.65 101.32L78.4 101.32L78.4 114.5L78.15 114.5L78.15 114.5L77.9 114.5L77.9 114.5L77.65 114.5L77.65 114.5L77.4 114.5L77.4 114.5L77.15 114.5L77.15 114.5L76.9 114.5L76.9 125.04L76.65 125.04L76.65 125.04L76.4 125.04L76.4 125.04L76.15 125.04L76.15 125.04L75.9 125.04L75.9 125.04L75.65 125.04L75.65 125.04L75.4 125.04L75.4 125.04L75.15 125.04L75.15 125.04L74.9 125.04L74.9 125.04L74.65 125.04L74.65 106.17L74.4 106.17L74.4 106.17L74.15 106.17L74.15 106.17L73.9 106.17L73.9 106.17L73.65 106.17L73.65 106.17L73.4 106.17L73.4 106.17L73.15 106.17L73.15 106.17L72.9 106.17L72.9 100.4L72.65 100.4L72.65 100.4L72.4 100.4L72.4 100.4L72.15 100.4L72.15 100.4L71.9 100.4L71.9 100.4L71.65 100.4L71.65 100.4L71.4 100.4L71.4 100.4L71.15 100.4L71.15 100.4L70.9 100.4L70.9 106.48L70.65 106.48L70.65 106.48L70.4 106.48L70.4 106.48L70.15 106.48L70.15 106.48L69.9 106.48L69.9 106.48L69.65 106.48L69.65 106.48L69.4 106.48L69.4 106.48L69.15 106.48L69.15 106.48L68.9 106.48L68.9 106.48L68.65 106.48L68.65 104.94L68.4 104.94L68.4 104.94L68.15 104.94L68.15 104.94L67.9 104.94L67.9 104.94L67.65 104.94L67.65 104.94L67.4 104.94L67.4 104.94L67.15 104.94L67.15 104.23L66.9 104.23L66.9 104.23L66.65 104.23L66.65 104.23L66.4 104.23L66.4 104.23L66.15 104.23L66.15 104.23L65.9 104.23L65.9 112.89L65.65 112.89L65.65 112.89L65.4 112.89L65.4 112.89L65.15 112.89L65.15 112.89L64.9 112.89L64.9 112.89L64.65 112.89L64.65 112.89L64.4 112.89L64.4 112.89L64.15 112.89L64.15 112.89L63.9 112.89L63.9 112.89L63.65 112.89L63.65 102.72L63.4 102.72Z" fill="#708090" clip-path="url(#clipa)"/>
<path d="M337.65 -51.35 337.79 -51.35 337.94 -51.35 338.08 -51.35 338.22 -51.35 338.36 -51.35 338.51 36.42 338.65 35.04 338.79 30.47 338.94 24.39 339.08 37.41 339.22 32.42 339.36 34.01 339.51 35.8 339.65 30.47 339.79 29.77 339.94 39.11 340.08 37.08 340.22 27.17 340.36 31.49 340.51 30.55 340.65 35.77 340.79 35.35 340.94 31.87 341.08 36.05 341.22 38.49 341.36 33.12 341.51 28.32 341.65 37.44 341.79 28.1 341.94 29.64 342.08 36.45 342.22 33.22 342.36 33.38 342.51 30.94 342.65 31.15 342.79 40.2 342.94 40.53 343.08 29.65 343.22 33.81 343.36 32.66 343.51 33 343.65 27.56 343.79 39.7 343.94 29.22 344.08 38.32 344.22 30.89 344.36 28.22 344.51 40.61 344.65 32.73 344.79 36.21 344.94 36.67 345.08 35.02 345.22 39.67 345.36 39.03 345.51 31.52 345.65 31.2 345.79 37.04 345.94 40.83 346.08 22.91 346.22 28.9 346.36 32.68 346.51 38.98 346.65 37.25 346.79 33.86 346.94 39.09 347.08 27.81 347.22 35.2 347.36 34.05 347.51 40.46 347.65 39.54 347.79 39.08 347.94 34.17 348.08 36.52 348.22 36.7 348.36 34.18 348.51 34.65 348.65 29.08 348.79 36.67 348.94 40.22 349.08 36.1 349.22 29.71 349.36 38.68 349.51 36.11 349.65 38.69 349.79 35.34 349.94 35.68 350.08 40.42 350.22 38.01 350.36 32.66 350.51 32.24 350.65 33.12 350.79 33.21 350.94 38.53 351.08 38.8 351.22 33.34 351.36 43.5 351.51 38.22 351.65 46.41 351.79 39.75 351.94 41.12 352.08 43.2 352.22 35.84 352.36 41.84 352.51 40.72 352.65 40.05 352.79 42.06 352.94 32.86 353.08 41.67 353.22 37.96 353.36 44.64 353.51 40.98 353.65 40.67 353.79 40.35 353.94 41.43 354.08 38.09 354.22 31.62 354.36 38.81 354.51 39.2 354.65 40.58 354.79 28.45 354.94 32.53 355.08 38.21 355.22 38.06 355.36 44.56 355.51 42.81 355.65 42.46 355.79 43.71 355.94 49.64 356.08 50.75 356.22 47.48 356.36 49.65 356.51 60.21 356.65 53.18 356.79 50.34 356.94 58.05 357.08 56.32 357.22 63.18 357.36 56.55 357.51 63.92 357.65 65.07 357.79 62.75 357.93 54.63 358.08 64.28 358.22 66.49 358.36 61.03 358.51 61.77 358.65 57.4 358.79 66.83 358.93 68.01 359.08 64.2 359.22 62.16 359.36 62.72 359.51 59.92 359.65 68.03 359.79 65.87 359.93 63.5 360.08 60.09 360.22 61.29 360.36 63.86 360.51 65.85 360.65 59.48 360.79 58.92 360.93 53.36 361.08 62.74 361.22 57.14 361.36 65.99 361.51 63.81 361.65 64.36 361.79 63.43 361.93 64.47 362.08 63.59 362.22 61.64 362.36 62.69 362.51 58.64 362.65 60.62 362.79 60.33 362.93 55.18 363.08 59.15 363.22 59.58 363.36 60.06 363.51 59.69 363.65 57.99 363.79 62.56 363.93 56.59 364.08 54.86 364.22 56.16 364.36 61.84 364.51 65.35 364.65 61.58 364.79 59.5 364.93 57.72 365.08 60.84 365.22 61.17 365.36 55.38 365.51 63.12 365.65 57.26 365.79 57.78 365.93 65.5 366.08 60.44 366.22 63.39 366.36 64.72 366.51 67.91 366.65 66.68 366.79 60.2 366.93 62.76 367.08 60.79 367.22 65.32 367.36 62.56 367.51 62.45 367.65 66.72 367.79 67.58 367.93 60.88 368.08 62.08 368.22 65.4 368.36 63.01 368.51 60.48 368.65 56.75 368.79 65.49 368.93 60.31 369.08 54.79 369.22 61.43 369.36 57.02 369.51 70.14 369.65 57.48 369.79 62.37 369.93 68.36 370.08 59.77 370.22 59.27 370.36 58.97 370.51 58.96 370.65 62.85 370.79 65.13 370.93 64.42 371.08 62.88 371.22 61.75 371.36 64.42 371.51 62.87 371.65 59.9 371.79 61.77 371.93 55.14 372.08 55.37 372.22 66.07 372.36 63.95 372.51 66.68 372.65 66.74 372.79 61.55 372.93 66.51 373.08 66.27 373.22 63.56 373.36 59.99 373.51 63.67 373.65 63.73 373.79 59.65 373.93 61.27 374.08 61.58 374.22 60.33 374.36 66.55 374.51 62.66 374.65 65.75 374.79 60.28 374.93 60.83 375.08 66.74 375.22 59.28 375.36 67.32 375.51 60.03 375.65 63.08 375.79 66.56 375.93 67.54 376.08 64.99 376.22 63.97 376.36 65.94 376.51 61.94 376.65 68.32 376.79 64.14 376.93 64.4 377.08 70.45 377.22 63.46 377.36 68.32 377.51 71.96 377.65 66.01 377.79 64.62 377.93 61.08 378.08 65.24 378.22 58.63 378.36 58.99 378.51 60.17 378.65 59.33 378.79 62.47 378.93 65.51 379.08 61.82 379.22 61.2 379.36 63.94 379.51 65.63 379.65 69.66 379.79 62.8 379.93 63.86 380.08 69.25 380.22 64.91 380.36 63.06 380.51 65.61 380.65 62.83 380.79 63.24 380.93 70.24 381.08 66.67 381.22 64.63 381.36 63.23 381.51 61.77 381.65 72.36 381.79 66.78 381.93 64.38 382.08 63.07 382.22 61.7 382.36 69.92 382.51 67.85 382.65 69.62 382.79 63.75 382.93 70.1 383.08 62.38 383.22 63.28 383.36 64.68 383.51 73.15 383.65 68.24 383.79 63.77 383.93 70.6 384.08 67.25 384.22 66.99 384.36 63.59 384.51 65.45 384.65 65.55 384.79 67.66 384.93 66.4 385.08 66.78 385.22 64.22 385.36 67.17 385.51 63.36 385.65 71.59 385.79 62.89 385.93 67.04 386.08 63.65 386.22 67.01 386.36 64.57 386.51 62.76 386.65 69.05 386.79 67.06 386.93 68.08 387.08 66.85 387.22 72.47 387.36 68.52 387.51 68.59 387.65 70.21 387.79 68.35 387.93 72.86 388.08 64.34 388.22 67.29 388.36 62.74 388.51 71.07 388.65 72.02 388.79 67.53 388.93 73.26 389.08 67.59 389.22 70.56 389.36 69.35 389.51 67.17 389.65 67.31 389.79 61.94 389.93 65.63 390.08 71.13 390.22 64.47 390.36 71.34 390.51 66.87 390.65 70.88 390.79 69.59 390.93 63.34 391.08 68.87 391.22 69.22 391.36 69.11 391.51 68.08 391.65 62.73 391.79 70.45 391.93 70.79 392.08 65.53 392.22 72.25 392.36 68.88 392.51 64.81 392.65 68.21 392.79 69.72 392.93 70.32 393.08 71.5 393.22 70.96 393.36 68.82 393.51 65.71 393.65 66.99 393.79 71.4 393.93 72.64 394.08 68.42 394.22 75.86 394.36 72.4 394.51 71.8 394.65 74.24 394.79 73.41 394.93 69.51 395.08 75.09 395.22 72.73 395.36 72.12 395.51 70.06 395.65 74.12 395.79 66.88 395.93 70.9 396.08 70.65 396.22 71.27 396.36 72.08 396.51 73.26 396.65 67.32 396.79 70.1 396.93 70.97 397.08 67.62 397.22 72.32 397.36 68.56 397.51 69.87 397.65 72.38 397.79 67.6 397.93 73.98 398.08 67.96 398.22 72.19 398.36 68.46 398.5 65.77 398.65 68.71 398.79 72.18 398.93 70.52 399.08 71.4 399.22 73.75 399.36 73.58 399.5 70.59 399.65 69.49 399.79 75.88 399.93 71.26 400.08 69.5 400.22 70.64 400.36 73.84 400.5 68.61 400.65 75.28 400.79 70.15 400.93 67.46 401.08 77.61 401.22 71.44 401.36 71.5 401.5 71.45 401.65 74.17 401.79 73.03 401.93 76.38 402.08 71.88 402.22 70.37 402.36 73.79 402.5 74.44 402.65 73.37 402.79 72.4 402.93 72.28 403.08 72.59 403.22 71.89 403.36 75.7 403.5 79.49 403.65 70.42 403.79 68.3 403.93 76 404.08 73.7 404.22 71.17 404.36 69.3 404.5 70.22 404.65 68.72 404.79 72.65 404.93 71.47 405.08 71.88 405.22 74.06 405.36 69.86 405.5 71.62 405.65 71.07 405.79 75.04 405.93 71.28 406.08 77.37 406.22 73.78 406.36 81.78 406.5 77.47 406.65 72.9 406.79 76.03 406.93 74.3 407.08 79.47 407.22 70.96 407.36 73.2 407.5 75.12 407.65 74.11 407.79 74.15 407.93 71.39 408.08 74.87 408.22 79.53 408.36 76.26 408.5 71.96 408.65 74.07 408.79 76.84 408.93 74.25 409.08 75.56 409.22 74.35 409.36 80.19 409.5 78.32 409.65 73.8 409.79 75.64 409.93 74.27 410.08 70.07 410.22 75.99 410.36 74.63 410.5 76.97 410.65 76.76 410.79 75.3 410.93 78.95 411.08 80.55 411.22 71.38 411.36 75.5 411.5 72.36 411.65 75.04 411.79 74.96 411.93 73.5 412.08 73.38 412.22 78.37 412.36 71.85 412.5 77.36 412.65 74.19 412.79 67.81 412.93 74.57 413.08 70.68 413.22 75.89 413.36 73.95 413.5 75.33 413.65 74.57 413.79 77.99 413.93 78.24 414.08 75.26 414.22 80.3 414.36 78.62 414.5 75.1 414.65 78.34 414.79 78.71 414.93 79.18 415.08 75.88 415.22 77.07 415.36 75.86 415.5 76.71 415.65 71.47 415.79 77.15 415.93 81.37 416.08 76.15 416.22 76.32 416.36 76.32 416.5 80.43 416.65 73.43 416.79 76.58 416.93 76.48 417.08 80.66 417.22 75.42 417.36 76.75 417.5 73.41 417.65 77.8 417.79 79.85 417.93 76.25 418.08 78.88 418.22 75.77 418.36 80.11 418.5 77.49 418.65 77.78 418.79 77.34 418.93 78.36 419.08 78.88 419.22 77.09 419.36 78.63 419.5 76.98 419.65 78.09 419.79 83.4 419.93 77.96 420.08 74.53 420.22 77.47 420.36 76.76 420.5 77.01 420.65 79.37 420.79 81.72 420.93 76.55 421.08 75.75 421.22 76.79 421.36 77.26 421.5 77.92 421.65 78.98 421.79 78.28 421.93 78.91 422.08 78.65 422.22 81.9 422.36 81.24 422.5 78.14 422.65 80.58 422.79 85.84 422.93 79.52 423.08 85.4 423.22 75.18 423.36 78.11 423.5 78.11 423.65 81.19 423.79 82.1 423.93 79.92 424.08 79.23 424.22 80.96 424.36 78.67 424.5 77.58 424.65 77.99 424.79 82.02 424.93 84.69 425.08 78.98 425.22 80.6 425.36 77.99 425.5 75.03 425.65 74.76 425.79 78.03 425.93 75.97 426.08 74.89 426.22 78.77 426.36 78.24 426.5 77.15 426.65 79.1 426.79 80.17 426.93 80.73 427.08 79.01 427.22 80.81 427.36 77.59 427.5 80.34 427.65 76.15 427.79 76.95 427.93 82.46 428.08 76.8 428.22 80.08 428.36 76.05 428.5 78.09 428.65 79.41 428.79 77.67 428.93 80.66 429.08 78.74 429.22 78.71 429.36 80.1 429.5 79.09 429.65 82.49 429.79 79.03 429.93 83.1 430.08 78.73 430.22 79.49 430.36 79.14 430.5 81.94 430.65 73.65 430.79 81.11 430.93 80.21 431.08 82.44 431.22 77.39 431.36 81.65 431.5 78.4 431.65 83.12 431.79 80.59 431.93 82.4 432.08 79.48 432.22 82.5 432.36 83.77 432.5 80.39 432.65 84.2 432.79 83.77 432.93 79.59 433.08 85.32 433.22 79.42 433.36 81.92 433.5 83.23 433.65 80.49 433.79 79.3 433.93 82.1 434.08 81.5 434.22 79.1 434.36 79.23 434.5 81.15 434.65 82.71 434.79 83.2 434.93 82.49 435.08 79.56 435.22 79.56 435.36 79.81 435.5 76.87 435.65 80.61 435.79 80.81 435.93 80.91 436.08 75.97 436.22 84.62 436.36 79.31 436.5 78.96 436.65 79.87 436.79 74.81 436.93 77.64 437.08 78.58 437.22 82.45 437.36 79.57 437.5 81.51 437.65 80.31 437.79 79.97 437.93 81.52 438.07 78.99 438.22 76.95 438.36 78.28 438.5 80.05 438.65 85.11 438.79 78.37 438.93 78.61 439.07 81.69 439.22 82.57 439.36 80.1 439.5 83.53 439.65 79.83 439.79 84.33 439.93 83.93 440.07 81.94 440.22 85.45 440.36 81.81 440.5 80.77 440.65 84.72 440.79 79.58 440.93 82.75 441.07 80.3 441.22 81.24 441.36 82.98 441.5 83.31 441.65 85.97 441.79 83.74 441.93 83.91 442.07 78.5 442.22 80.18 442.36 85.69 442.5 80.85 442.65 82.06 442.79 83.28 442.93 81.31 443.07 80.4 443.22 83.38 443.36 82.58 443.5 81.66 443.65 84.09 443.79 81.67 443.93 82.53 444.07 83.79 444.22 84.14 444.36 81.4 444.5 80.11 444.65 81.42 444.79 84.03 444.93 80.39 445.07 81.49 445.22 80.44 445.36 78.9 445.5 83.86 445.65 82.17 445.79 82.85 445.93 83.36 446.07 76.95 446.22 79.36 446.36 85.45 446.5 80.89 446.65 83.13 446.79 79.43 446.93 81.8 447.07 82.41 447.22 81.89 447.36 81.01 447.5 81.83 447.65 82.08 447.79 82.06 447.93 80.91 448.07 84.58 448.22 81.97 448.36 82.28 448.5 83.18 448.65 80.59 448.79 85.2 448.93 83.29 449.07 84.05 449.22 81.23 449.36 83.41 449.5 82.27 449.65 81.53 449.79 85.8 449.93 81.3 450.07 83.79 450.22 82.68 450.36 82.52 450.5 80.75 450.65 80.93 450.79 78.67 450.93 82.25 451.07 83.57 451.22 84 451.36 81.69 451.5 80 451.65 82.61 451.79 84.51 451.93 82.5 452.07 82.47 452.22 82.82 452.36 84.43 452.5 88.34 452.65 84.26 452.79 80.95 452.93 82.81 453.07 87.87 453.22 83.17 453.36 87.2 453.5 78.93 453.65 82.72 453.79 85.88 453.93 81.81 454.07 85.26 454.22 82.56 454.36 83.78 454.5 86.42 454.65 82.59 454.79 86.7 454.93 80.86 455.07 83.41 455.22 85.73 455.36 87.73 455.5 80.63 455.65 80.97 455.79 86.95 455.93 81 456.07 84.07 456.22 84.82 456.36 84.38 456.5 84.63 456.65 81.17 456.79 84.08 456.93 88.14 457.07 79.87 457.22 82.58 457.36 86.65 457.5 84.88 457.65 85.94 457.79 83.78 457.93 83.06 458.07 83.41 458.22 85.27 458.36 85.86 458.5 82.36 458.65 84.33 458.79 79.51 458.93 85.92 459.07 82.59 459.22 84.3 459.36 85.59 459.5 81.12 459.65 83.91 459.79 85.87 459.93 84.66 460.07 82.22 460.22 86.89 460.36 81.39 460.5 83.1 460.65 85.1 460.79 81.67 460.93 81.01 461.07 83.53 461.22 84.52 461.36 81.23 461.5 81.73 461.65 86.82 461.79 85.32 461.93 85.11 462.07 85.68 462.22 87.74 462.36 82.84 462.5 84.36 462.65 84.36 462.79 81.56 462.93 86.02 463.07 84.89 463.22 83.94 463.36 85.61 463.5 85.15 463.65 83.17 463.79 84.76 463.93 82.07 464.07 86.16 464.22 84.44 464.36 87.74 464.5 84.97 464.65 86.19 464.79 81.9 464.93 83.26 465.07 83.98 465.22 81.19 465.36 82.12 465.5 83.74 465.65 86.48 465.79 88.25 465.93 85.27 466.07 86.03 466.22 86.75 466.36 86.16 466.5 89 466.65 82.42 466.79 87.94 466.93 87 467.07 84.32 467.22 88.82 467.36 83.76 467.5 83.75 467.65 86.53 467.79 88.15 467.93 86.82 468.07 89.84 468.22 83.16 468.36 86.09 468.5 87.52 468.65 87.94 468.79 85.01 468.93 83.22 469.07 88.91 469.22 87.67 469.36 90.16 469.5 85.3 469.65 86.25 469.79 81.99 469.93 86.74 470.07 87.48 470.22 88.15 470.36 85.02 470.5 89.75 470.65 84.96 470.79 85.94 470.93 87.27 471.07 88.25 471.22 84.1 471.36 82.38 471.5 87.28 471.65 85.02 471.79 82.63 471.93 87.13 472.07 86.56 472.22 88.49 472.36 86.36 472.5 86.05 472.65 86.94 472.79 87.51 472.93 89.12 473.07 88.76 473.22 88.29 473.36 85.07 473.5 87.29 473.65 87.89 473.79 84.96 473.93 85.19 474.07 88.12 474.22 87.95 474.36 85.36 474.5 86.09 474.65 88.33 474.79 86.43 474.93 86.93 475.07 84.64 475.22 88.74 475.36 85.28 475.5 86.41 475.65 89.2 475.79 85.03 475.93 85.35 476.07 89.93 476.22 83.09 476.36 89.37 476.5 88.98 476.65 87.7 476.79 85.49 476.93 85.82 477.07 87.22 477.22 84.24 477.36 86.13 477.5 84.26 477.64 81.62 477.79 86.86 477.93 92.43 478.07 88.15 478.22 89.3 478.36 86.84 478.5 86.76 478.64 89.5 478.79 89.26 478.93 87.42 479.07 87.11 479.22 91.82 479.36 84.78 479.5 86.47 479.64 86.52 479.79 85.92 479.93 88.57 480.07 86.7 480.22 84.69 480.36 84.51 480.5 85.72 480.64 87.27 480.79 88.39 480.93 84.25 481.07 85.79 481.22 87.42 481.36 90.99 481.5 88.5 481.64 90.85 481.79 84.68 481.93 86.65 482.07 88.76 482.22 87.66 482.36 82 482.5 84.91 482.64 90.2 482.79 87.98 482.93 90.32 483.07 91.45 483.22 87.57 483.36 83.18 483.5 84.93 483.64 87.87 483.79 88.73 483.93 87.5 484.07 85.76 484.22 90.88 484.36 91.61 484.5 84.04 484.64 87.27 484.79 84.58 484.93 87.53 485.07 85.22 485.22 89.22 485.36 87.14 485.5 85.35 485.64 86.14 485.79 89.14 485.93 86.68 486.07 89.81 486.22 91.23 486.36 87.1 486.5 85.5 486.64 86.6 486.79 90.92 486.93 86.89 487.07 87.39 487.22 89.85 487.36 93.84 487.5 86.89 487.64 87.23 487.79 87.88 487.93 92.44 488.07 91.99 488.22 86.97 488.36 87.7 488.5 88.13 488.64 89.38 488.79 88.27 488.93 90.16 489.07 89.52 489.22 90.64 489.36 88.54 489.5 89.85 489.64 87.04 489.79 87.57 489.93 90.86 490.07 85.39 490.22 91.23 490.36 88.1 490.5 86.42 490.64 85.9 490.79 92.57 490.93 86.11 491.07 85.57 491.22 85.1 491.36 92.49 491.5 89.49 491.64 88.4 491.79 89.25 491.93 85.61 492.07 89.55 492.22 85.91 492.36 87.22 492.5 91.08 492.64 90.46 492.79 89.52 492.93 88.37 493.07 86.52 493.22 89.14 493.36 86.88 493.5 91.87 493.64 94.93 493.79 89.62 493.93 88.14 494.07 90.09 494.22 91.72 494.36 89.05 494.5 86.2 494.64 90.42 494.79 91.79 494.93 91.95 495.07 86.46 495.22 90.47 495.36 89.23 495.5 87.91 495.64 88.31 495.79 92.1 495.93 88.41 496.07 88.58 496.22 89.2 496.36 88.24 496.5 91.28 496.64 90.4 496.79 91.04 496.93 88.8 497.07 91.4 497.22 89.34 497.36 92.24 497.5 90.32 497.64 90.9 497.79 90.26 497.93 89.77 498.07 90.51 498.22 90.53 498.36 94.06 498.5 87.88 498.64 91.35 498.79 90.62 498.93 91.59 499.07 88.41 499.22 91.98 499.36 89.39 499.5 88.17 499.64 87.42 499.79 88.36 499.93 89.5 500.07 93.16 500.22 88.49 500.36 88.61 500.5 89.29 500.64 89.57 500.79 90.85 500.93 92.14 501.07 89.43 501.22 88.95 501.36 93.27 501.5 89.51 501.64 90.56 501.79 89.49 501.93 90.65 502.07 89.25 502.22 89.35 502.36 89.44 502.5 93.82 502.64 89.5 502.79 91.21 502.93 93.5 503.07 90.11 503.22 93.99 503.36 89.69 503.5 88.19 503.64 92.34 503.79 89.37 503.93 90.51 504.07 90.08 504.22 93.43 504.36 89.82 504.5 90.74 504.64 89.23 504.79 90.53 504.93 88.5 505.07 90.28 505.22 89.68 505.36 88.59 505.5 90.71 505.64 89.11 505.79 90.62 505.93 90.16 506.07 92.14 506.22 89.85 506.36 88.69 506.5 91.14 506.64 89.57 506.79 90.2 506.93 92.86 507.07 90.09 507.22 88.17 507.36 91.79 507.5 94.01 507.64 90.19 507.79 91.94 507.93 87.13 508.07 90.72 508.22 90.64 508.36 91.81 508.5 90.42 508.64 91.91 508.79 92.63 508.93 90.9 509.07 92.43 509.22 88.56 509.36 93.1 509.5 91.18 509.64 92.36 509.79 93.49 509.93 88.03 510.07 94.92 510.22 88.25 510.36 93.67 510.5 91.01 510.64 87.23 510.79 95.15 510.93 93.71 511.07 88.9 511.22 91.23 511.36 92.66 511.5 91.87 511.64 93.51 511.79 91.7 511.93 89.42 512.07 92.7 512.22 91.61 512.36 89.58 512.5 88.07 512.64 92.82 512.79 91.39 512.93 92.98 513.07 93.3 513.22 93 513.36 93.4 513.5 95.39 513.64 95.93 513.79 93.75 513.93 92.17 514.07 90.47 514.22 93.54 514.36 93.09 514.5 91.44 514.64 91.44 514.79 92.83 514.93 92.77 515.07 89.24 515.22 93.31 515.36 93.49 515.5 95.48 515.64 91.87 515.79 93.17 515.93 89.29 516.07 93.41 516.22 91.2 516.36 90.74 516.5 89.71 516.64 94.88 516.79 89.82 516.93 92.74 517.07 92.96 517.22 93.4 517.36 93.62 517.5 93.52 517.64 96.95 517.79 91.8 517.93 92.55 518.07 94.49 518.21 92.67 518.36 88.62 518.5 91.99 518.64 93.55 518.79 89.73 518.93 94.16 519.07 92.88 519.21 93.53 519.36 93.03 519.5 91.45 519.64 91.89 519.79 94.36 519.93 93.26 520.07 92.87 520.21 93.92 520.36 92.97 520.5 94.3 520.64 94.37 520.79 93 520.93 94.74 521.07 92.14 521.21 93.19 521.36 94.55 521.5 94.05 521.64 93.82 521.79 93.27 521.93 92.66 522.07 93.3 522.21 94.46 522.36 90.49 522.5 91.54 522.64 93.06 522.79 91.65 522.93 92.64 523.07 93.6 523.21 92.86 523.36 88.39 523.5 91.38 523.64 91.21 523.79 93.39 523.93 91.76 524.07 88.71 524.21 91.89 524.36 90.57 524.5 90.27 524.64 91.4 524.79 89.83 524.93 92.39 525.07 91.93 525.21 93.97 525.36 88.52 525.5 92.46 525.64 92.91 525.79 90.64 525.93 93.77 526.07 92.84 526.21 94.09 526.36 92.78 526.5 93.64 526.64 92 526.79 93.22 526.93 93.9 527.07 93.42 527.21 93.01 527.36 93.8 527.5 91.38 527.64 91.87 527.79 92.9 527.93 95.3 528.07 92.5 528.21 95.59 528.36 93.2 528.5 93.44 528.64 94.52 528.79 94.89 528.93 94.73 529.07 90.28 529.21 94.18 529.36 93.92 529.5 92.19 529.64 93.06 529.79 92.16 529.93 95.92 530.07 95.63 530.21 88.22 530.36 93.85 530.5 94.37 530.64 93.66 530.79 92.36 530.93 95.93 531.07 93.29 531.21 93.83 531.36 92.62 531.5 93.45 531.64 94.61 531.79 95.11 531.93 97.73 532.07 91.84 532.21 96.1 532.36 94.21 532.5 90.49 532.64 94.01 532.79 92.14 532.93 93.6 533.07 91.97 533.21 93.34 533.36 94.09 533.5 90.97 533.64 93.7 533.79 95.35 533.93 93.73 534.07 92.51 534.21 95.24 534.36 91.99 534.5 92.05 534.64 89.91 534.79 94.58 534.93 92.35 535.07 96.27 535.21 94.31 535.36 93.54 535.5 92.99 535.64 93.65 535.79 93.45 535.93 94.45 536.07 94.35 536.21 93.1 536.36 92.75 536.5 92.75 536.64 92.15 536.79 91.77 536.93 96.86 537.07 94.79 537.21 94.19 537.36 95.14 537.5 92.36" fill="none" stroke="#ff7f0e" stroke-width="1.95" stroke-linejoin="round" clip-path="url(#clipb)"/>
<path d="M337.65 -51.35 337.79 39.62 337.94 39.62 338.08 58.74 338.22 64.33 338.36 66.15 338.51 63.47 338.65 67.81 338.79 63.26 338.94 62.36 339.08 64.16 339.22 61.72 339.36 64.63 339.51 63.95 339.65 68.15 339.79 63.67 339.94 66.54 340.08 65.37 340.22 64.62 340.36 64 340.51 70.35 340.65 70.28 340.79 66.45 340.94 64.27 341.08 64.8 341.22 62.94 341.36 61.6 341.51 64.1 341.65 65.94 341.79 69.56 341.94 69.5 342.08 68.22 342.22 65.99 342.36 66 342.51 66.93 342.65 67.28 342.79 64.99 342.94 66.54 343.08 66.37 343.22 66.65 343.36 69.42 343.51 71 343.65 66.59 343.79 66.41 343.94 68.4 344.08 68.87 344.22 61 344.36 70.16 344.51 68.34 344.65 66.86 344.79 71.34 344.94 67.39 345.08 62.17 345.22 64.78 345.36 65.88 345.51 66.13 345.65 67.45 345.79 65.08 345.94 68.55 346.08 69.49 346.22 68.01 346.36 65.85 346.51 67.45 346.65 66.25 346.79 74.45 346.94 64.69 347.08 60.97 347.22 63.78 347.36 69.09 347.51 70.71 347.65 67.2 347.79 70.67 347.94 65.27 348.08 69.16 348.22 64.64 348.36 63.3 348.51 73.68 348.65 66.62 348.79 70.32 348.94 72.25 349.08 69.49 349.22 68.68 349.36 64.83 349.51 72.61 349.65 64.68 349.79 61.62 349.94 66.05 350.08 66.18 350.22 67.81 350.36 71.51 350.51 66.41 350.65 66.96 350.79 65.79 350.94 60.17 351.08 66.23 351.22 67.33 351.36 64.15 351.51 73.13 351.65 72.46 351.79 69.96 351.94 71.04 352.08 67.28 352.22 70.32 352.36 63.94 352.51 64.62 352.65 67.17 352.79 70.25 352.94 67.27 353.08 66.99 353.22 72.65 353.36 68.76 353.51 67.6 353.65 68.94 353.79 65.09 353.94 66.16 354.08 72.1 354.22 69.4 354.36 72.22 354.51 68.29 354.65 72.03 354.79 67.02 354.94 68.91 355.08 67.19 355.22 70.42 355.36 74.63 355.51 65.45 355.65 70.89 355.79 66.65 355.94 69.32 356.08 68.54 356.22 65.33 356.36 69.64 356.51 67 356.65 75.2 356.79 68.38 356.94 71.43 357.08 71.1 357.22 70.95 357.36 70.37 357.51 66.57 357.65 76.45 357.79 71.69 357.93 74.04 358.08 68.77 358.22 73.36 358.36 71.04 358.51 73.23 358.65 70.62 358.79 69.57 358.93 73.62 359.08 72.62 359.22 76.62 359.36 71.69 359.51 70.41 359.65 74.19 359.79 69.78 359.93 78.71 360.08 77.76 360.22 76.77 360.36 74.42 360.51 73.37 360.65 73.75 360.79 73.92 360.93 71.63 361.08 75.15 361.22 77.61 361.36 77.49 361.51 68.7 361.65 80.72 361.79 75.14 361.93 70.75 362.08 73.56 362.22 76.97 362.36 74.89 362.51 72.55 362.65 71.58 362.79 77.53 362.93 73.3 363.08 74.53 363.22 72.52 363.36 71.76 363.51 76.76 363.65 79.64 363.79 74.37 363.93 70.86 364.08 73.77 364.22 75.1 364.36 69.41 364.51 78.65 364.65 73.46 364.79 77.36 364.93 75.91 365.08 75.74 365.22 72.18 365.36 78.57 365.51 77.47 365.65 80.52 365.79 75.15 365.93 77.8 366.08 75.82 366.22 79.96 366.36 78.04 366.51 74.56 366.65 77.82 366.79 75.93 366.93 76.09 367.08 78.21 367.22 81.86 367.36 75.45 367.51 77.68 367.65 75.59 367.79 83.38 367.93 82.42 368.08 83.57 368.22 80.17 368.36 75.1 368.51 76.05 368.65 77.55 368.79 77.15 368.93 75.41 369.08 78.13 369.22 76.12 369.36 76.78 369.51 82.45 369.65 77.73 369.79 73.14 369.93 77.77 370.08 77.07 370.22 78.33 370.36 78.16 370.51 74.45 370.65 77.95 370.79 79.92 370.93 85.21 371.08 78.77 371.22 82.28 371.36 81.69 371.51 75.03 371.65 75.47 371.79 82.43 371.93 75.7 372.08 76.86 372.22 80.34 372.36 76.66 372.51 82.75 372.65 81.7 372.79 82.38 372.93 81.6 373.08 77.06 373.22 82.69 373.36 82.47 373.51 81.95 373.65 78.94 373.79 80.32 373.93 77.19 374.08 81.02 374.22 82.36 374.36 80.34 374.51 78.98 374.65 81.43 374.79 78.74 374.93 75.06 375.08 81.08 375.22 79.49 375.36 76.11 375.51 80.99 375.65 81.57 375.79 81.91 375.93 78.34 376.08 78.09 376.22 79.93 376.36 79.65 376.51 76.77 376.65 77.78 376.79 83.32 376.93 79.59 377.08 79.58 377.22 78.29 377.36 80.93 377.51 82.17 377.65 81.7 377.79 85.4 377.93 81.31 378.08 82.82 378.22 80.28 378.36 83.84 378.51 82.67 378.65 83.77 378.79 84.06 378.93 79.99 379.08 82.64 379.22 80.37 379.36 84.28 379.51 81.19 379.65 85.53 379.79 82.49 379.93 82.38 380.08 79.86 380.22 80.69 380.36 81.57 380.51 79.44 380.65 80.92 380.79 80.03 380.93 79.31 381.08 81.21 381.22 81.65 381.36 79.93 381.51 81.7 381.65 79.77 381.79 78 381.93 78.52 382.08 81.21 382.22 83.61 382.36 80.62 382.51 80.54 382.65 77.9 382.79 81.32 382.93 80.7 383.08 78.57 383.22 81.27 383.36 80.53 383.51 76.3 383.65 76.61 383.79 78.75 383.93 79.61 384.08 82.42 384.22 78.63 384.36 79.89 384.51 79.59 384.65 81.31 384.79 80.15 384.93 80.7 385.08 79.44 385.22 77.01 385.36 79.72 385.51 84.52 385.65 83.03 385.79 84.31 385.93 82.47 386.08 79.44 386.22 79.68 386.36 82.08 386.51 80.37 386.65 82.78 386.79 84.53 386.93 84.65 387.08 83.38 387.22 78.36 387.36 84.82 387.51 79.11 387.65 78.92 387.79 82.59 387.93 82.37 388.08 83.59 388.22 82.25 388.36 80.88 388.51 82.34 388.65 80.26 388.79 80.08 388.93 82.2 389.08 82.14 389.22 83.39 389.36 82.67 389.51 86 389.65 82.75 389.79 83.19 389.93 85.6 390.08 78.66 390.22 85.58 390.36 85.36 390.51 82.87 390.65 87.8 390.79 85.25 390.93 87.06 391.08 85.85 391.22 83.81 391.36 82.9 391.51 81.19 391.65 82.02 391.79 81.28 391.93 42.66 392.08 85.06 392.22 81.52 392.36 85.05 392.51 85.24 392.65 80.64 392.79 81.91 392.93 83.15 393.08 81.97 393.22 81.63 393.36 86.84 393.51 84.42 393.65 86.97 393.79 84.63 393.93 86.52 394.08 81.82 394.22 83.74 394.36 86.54 394.51 84.74 394.65 87.41 394.79 85.01 394.93 83.92 395.08 84.46 395.22 89.02 395.36 85.66 395.51 83.87 395.65 84.33 395.79 82.41 395.93 87.78 396.08 83.78 396.22 86.38 396.36 84.76 396.51 84.6 396.65 84.24 396.79 87.27 396.93 85.55 397.08 88.49 397.22 89.09 397.36 84.7 397.51 86.09 397.65 89.8 397.79 88.41 397.93 86.51 398.08 83.18 398.22 84.15 398.36 84.45 398.5 90 398.65 86.5 398.79 85.52 398.93 85.54 399.08 85.45 399.22 86.83 399.36 82.62 399.5 83.1 399.65 86.38 399.79 88.56 399.93 82.22 400.08 87.71 400.22 84.07 400.36 82.64 400.5 88.73 400.65 86.15 400.79 87.54 400.93 85.77 401.08 86.34 401.22 82.9 401.36 85.81 401.5 87.39 401.65 85.12 401.79 88.12 401.93 88.57 402.08 83.18 402.22 89.45 402.36 88.76 402.5 87.94 402.65 90.39 402.79 92.72 402.93 86.18 403.08 90.14 403.22 89.88 403.36 89.19 403.5 90.47 403.65 90.7 403.79 88.19 403.93 83.44 404.08 86.84 404.22 86.73 404.36 91.27 404.5 88.53 404.65 90.75 404.79 86.63 404.93 88.33 405.08 87.73 405.22 88.18 405.36 89.17 405.5 91.19 405.65 87.13 405.79 91.44 405.93 91.01 406.08 89.01 406.22 89.75 406.36 87.87 406.5 86.13 406.65 87.77 406.79 87.84 406.93 88.55 407.08 86.78 407.22 92.19 407.36 87.66 407.5 90.29 407.65 91.08 407.79 88.67 407.93 89.8 408.08 87.49 408.22 86.44 408.36 93.47 408.5 89.21 408.65 85.18 408.79 87.07 408.93 85.98 409.08 88.63 409.22 91.6 409.36 91.11 409.5 87.67 409.65 87.34 409.79 90.82 409.93 89.83 410.08 89 410.22 92.85 410.36 90.1 410.5 86.06 410.65 85.1 410.79 89.69 410.93 85.97 411.08 90.81 411.22 91.28 411.36 94.25 411.5 87.78 411.65 90.51 411.79 85.25 411.93 89.16 412.08 89.57 412.22 93.41 412.36 87.16 412.5 90.84 412.65 90.49 412.79 94.34 412.93 88.09 413.08 87.93 413.22 91.2 413.36 89.91 413.5 89.37 413.65 88.21 413.79 89.9 413.93 86.87 414.08 90.63 414.22 91.39 414.36 91.16 414.5 95.18 414.65 91.89 414.79 88.49 414.93 89.78 415.08 91.99 415.22 89.9 415.36 94.53 415.5 91.14 415.65 89.61 415.79 89.52 415.93 92.32 416.08 89.32 416.22 87.77 416.36 92.28 416.5 90.25 416.65 94.67 416.79 95.37 416.93 90.48 417.08 91.62 417.22 91.58 417.36 93.17 417.5 92.59 417.65 90.57 417.79 88.81 417.93 92.4 418.08 95.44 418.22 89.95 418.36 91.36 418.5 91.26 418.65 92.35 418.79 88.15 418.93 92.36 419.08 91.77 419.22 96.12 419.36 93.72 419.5 94.06 419.65 92.67 419.79 91.84 419.93 93.99 420.08 89.42 420.22 94.61 420.36 93.55 420.5 92.22 420.65 95.08 420.79 91.53 420.93 91.32 421.08 93.19 421.22 89.25 421.36 92.61 421.5 92.35 421.65 94.47 421.79 95.7 421.93 93.6 422.08 93.21 422.22 93.29 422.36 91.2 422.5 97.03 422.65 94.75 422.79 96.08 422.93 90.19 423.08 93.57 423.22 93.64 423.36 94.55 423.5 90.92 423.65 93.21 423.79 92.06 423.93 95.97 424.08 90.25 424.22 91.49 424.36 91.39 424.5 90.17 424.65 92.66 424.79 92.45 424.93 91.04 425.08 91.46 425.22 92.55 425.36 92.04 425.5 93.28 425.65 90.93 425.79 90.74 425.93 92.56 426.08 89.12 426.22 95.4 426.36 92.92 426.5 89.55 426.65 93.44 426.79 95.48 426.93 90.22 427.08 91.68 427.22 94.91 427.36 91.42 427.5 94.68 427.65 95.2 427.79 93.07 427.93 93.64 428.08 94.87 428.22 93.76 428.36 95.05 428.5 93.03 428.65 93.34 428.79 91.95 428.93 94.02 429.08 77.53 429.22 95.48 429.36 93.42 429.5 90.3 429.65 91.65 429.79 94.22 429.93 91.5 430.08 95.31 430.22 91.52 430.36 94.11 430.5 92.13 430.65 92.37 430.79 93.87 430.93 92.73 431.08 95.3 431.22 93.63 431.36 91.7 431.5 86.41 431.65 92.28 431.79 93.46 431.93 95.49 432.08 91.89 432.22 96.57 432.36 95.25 432.5 93.3 432.65 96 432.79 91.31 432.93 92.31 433.08 95.13 433.22 95.19 433.36 96.45 433.5 96.73 433.65 93.28 433.79 92.92 433.93 93.4 434.08 93.61 434.22 95.18 434.36 93.63 434.5 96.8 434.65 94.25 434.79 91.64 434.93 92.01 435.08 95.14 435.22 94.86 435.36 91.78 435.5 90.96 435.65 96.64 435.79 95.05 435.93 93.94 436.08 92.35 436.22 95.95 436.36 93.38 436.5 94.88 436.65 90.14 436.79 93.43 436.93 94.47 437.08 94.79 437.22 92.43 437.36 93.18 437.5 96.05 437.65 93.79 437.79 96.48 437.93 95.46 438.07 96.5 438.22 96.72 438.36 95.69 438.5 96.24 438.65 93.74 438.79 93.42 438.93 95.18 439.07 96.8 439.22 93.61 439.36 98.2 439.5 97.93 439.65 93.36 439.79 93.68 439.93 93.18 440.07 95.23 440.22 97.11 440.36 95.75 440.5 93.91 440.65 96.19 440.79 96.16 440.93 97.31 441.07 97.05 441.22 93.5 441.36 94.05 441.5 96.95 441.65 97.01 441.79 96.03 441.93 94.13 442.07 97.2 442.22 95.46 442.36 98.9 442.5 97.36 442.65 94.62 442.79 93.63 442.93 97.22 443.07 96.59 443.22 93.69 443.36 95.54 443.5 95.83 443.65 93.81 443.79 94.45 443.93 93 444.07 93.67 444.22 96.03 444.36 95.4 444.5 95.3 444.65 97.47 444.79 96.87 444.93 93.65 445.07 97.86 445.22 93.39 445.36 94.46 445.5 95.25 445.65 93.88 445.79 93.95 445.93 92.74 446.07 95.46 446.22 95.15 446.36 95.39 446.5 91.86 446.65 93.45 446.79 96.86 446.93 96.04 447.07 96.64 447.22 95.67 447.36 95.24 447.5 91.7 447.65 98.66 447.79 93.84 447.93 94.86 448.07 97.05 448.22 96.22 448.36 96.98 448.5 96.12 448.65 94.75 448.79 98.9 448.93 94.31 449.07 97.13 449.22 94.03 449.36 95.99 449.5 94.76 449.65 95.86 449.79 94.9 449.93 96.53 450.07 97.93 450.22 95.37 450.36 95.2 450.5 92.83 450.65 99.68 450.79 96.68 450.93 94.66 451.07 98.41 451.22 96.8 451.36 92.86 451.5 93.9 451.65 97.51 451.79 93.73 451.93 94.03 452.07 94.68 452.22 95.35 452.36 95.66 452.5 97.46 452.65 96.95 452.79 94.78 452.93 95.77 453.07 92.76 453.22 96.51 453.36 99.97 453.5 96.59 453.65 95.72 453.79 95.66 453.93 96.29 454.07 97.85 454.22 93.99 454.36 97.51 454.5 95.07 454.65 96.96 454.79 98.32 454.93 94.15 455.07 100.91 455.22 98.25 455.36 96.1 455.5 97.54 455.65 95.82 455.79 97.11 455.93 97.78 456.07 93.56 456.22 97.28 456.36 97.23 456.5 98.72 456.65 98.16 456.79 95.87 456.93 95.93 457.07 97 457.22 98.3 457.36 95.96 457.5 99.91 457.65 97.49 457.79 97.5 457.93 98.62 458.07 97.05 458.22 98.33 458.36 98.49 458.5 94.05 458.65 95.45 458.79 94.67 458.93 96.5 459.07 94.82 459.22 95.01 459.36 94.38 459.5 92.47 459.65 96.66 459.79 96.16 459.93 96.74 460.07 102.53 460.22 99.1 460.36 96.86 460.5 95.82 460.65 97.55 460.79 94.56 460.93 94.34 461.07 97.12 461.22 94.14 461.36 93.47 461.5 95.48 461.65 97.93 461.79 93.9 461.93 96.73 462.07 97.11 462.22 96.63 462.36 97.73 462.5 95.09 462.65 95.69 462.79 94.99 462.93 95.95 463.07 98.17 463.22 97 463.36 95.43 463.5 97.44 463.65 91.88 463.79 97.19 463.93 97.73 464.07 95.02 464.22 95.91 464.36 97.32 464.5 97.6 464.65 96.52 464.79 95.93 464.93 96.15 465.07 97.9 465.22 96.58 465.36 95.99 465.5 96.24 465.65 102.44 465.79 98.75 465.93 98.6 466.07 97.65 466.22 97.11 466.36 95.73 466.5 96.35 466.65 97.43 466.79 97.3 466.93 94.43 467.07 98.3 467.22 96.85 467.36 94.66 467.5 96.45 467.65 100.45 467.79 96.44 467.93 97.57 468.07 97.21 468.22 95.39 468.36 96.45 468.5 97.52 468.65 95.63 468.79 96.53 468.93 97.2 469.07 96.62 469.22 96.89 469.36 97.84 469.5 98.03 469.65 97.52 469.79 98.95 469.93 99.61 470.07 95.36 470.22 97.78 470.36 97.46 470.5 97.46 470.65 97.14 470.79 97.22 470.93 97.27 471.07 98.63 471.22 95.82 471.36 98.47 471.5 95.8 471.65 100.52 471.79 99.14 471.93 95.73 472.07 97.52 472.22 98.46 472.36 96.85 472.5 99.01 472.65 97.45 472.79 101.04 472.93 98.16 473.07 98.23 473.22 96.18 473.36 95.75 473.5 98.44 473.65 94.82 473.79 98.57 473.93 100.77 474.07 101.31 474.22 95.29 474.36 97.97 474.5 98.74 474.65 99.04 474.79 99.61 474.93 95.71 475.07 98.02 475.22 95.2 475.36 98.25 475.5 101.78 475.65 96.91 475.79 98.91 475.93 98.59 476.07 95.81 476.22 98.55 476.36 96.28 476.5 98.14 476.65 99.55 476.79 97.65 476.93 99.48 477.07 96.75 477.22 96.95 477.36 98.08 477.5 97.45 477.64 97.67 477.79 98.87 477.93 96.87 478.07 98.76 478.22 97.44 478.36 99.99 478.5 98.4 478.64 97.8 478.79 99.43 478.93 98.92 479.07 99.09 479.22 97 479.36 99.09 479.5 97.27 479.64 95.57 479.79 97.43 479.93 100.43 480.07 97.85 480.22 96.5 480.36 98.5 480.5 96.14 480.64 96.76 480.79 97.13 480.93 98.5 481.07 98.83 481.22 98.44 481.36 98.05 481.5 97.42 481.64 97.58 481.79 98.63 481.93 98.04 482.07 97.53 482.22 100.79 482.36 99.48 482.5 99.5 482.64 98.59 482.79 98.68 482.93 98.75 483.07 99.79 483.22 97.21 483.36 97.81 483.5 100.75 483.64 98.04 483.79 99.65 483.93 95.29 484.07 98.77 484.22 98.7 484.36 97.97 484.5 98.32 484.64 98.08 484.79 95.57 484.93 97.63 485.07 96.6 485.22 96.02 485.36 99.4 485.5 95.15 485.64 96.6 485.79 96.21 485.93 99.18 486.07 96.7 486.22 97.21 486.36 98.73 486.5 94.42 486.64 97.18 486.79 98.56 486.93 97.88 487.07 96.94 487.22 96.73 487.36 97.6 487.5 96.74 487.64 96.27 487.79 100.46 487.93 99.38 488.07 100.2 488.22 98.59 488.36 96.49 488.5 97.65 488.64 100.32 488.79 99.25 488.93 97.27 489.07 99.77 489.22 99.18 489.36 98.43 489.5 101.57 489.64 97.57 489.79 98.25 489.93 97.88 490.07 100.23 490.22 99.75 490.36 99.42 490.5 98.08 490.64 98.42 490.79 98.26 490.93 95.79 491.07 96.46 491.22 99.49 491.36 99.38 491.5 95.79 491.64 98.86 491.79 96.29 491.93 96.06 492.07 99.26 492.22 98.87 492.36 98.35 492.5 99.71 492.64 99.7 492.79 98.87 492.93 97.08 493.07 99.04 493.22 98.66 493.36 99.18 493.5 100.72 493.64 96.32 493.79 102.16 493.93 99.63 494.07 97.92 494.22 100.83 494.36 97.91 494.5 96.99 494.64 100.15 494.79 98.62 494.93 100.57 495.07 98.11 495.22 98.77 495.36 98.68 495.5 96.74 495.64 98.27 495.79 96.89 495.93 97.88 496.07 100.7 496.22 98.59 496.36 98.41 496.5 101.35 496.64 97.42 496.79 99.29 496.93 98.81 497.07 100.68 497.22 99.24 497.36 98.9 497.5 99.93 497.64 99.38 497.79 102.8 497.93 97.53 498.07 101.05 498.22 102.75 498.36 100.9 498.5 100.88 498.64 98.71 498.79 100.84 498.93 98.99 499.07 101.1 499.22 96.31 499.36 98.78 499.5 96.8 499.64 101.21 499.79 98.8 499.93 101.22 500.07 98.87 500.22 98.58 500.36 102.05 500.5 101.4 500.64 101.38 500.79 102.01 500.93 100.87 501.07 101.2 501.22 102.07 501.36 99.68 501.5 99.05 501.64 102.06 501.79 100.86 501.93 100.09 502.07 100.38 502.22 101.07 502.36 98.85 502.5 98.91 502.64 99.09 502.79 100.32 502.93 97.17 503.07 97.59 503.22 100.84 503.36 100.36 503.5 98.27 503.64 101.22 503.79 99.54 503.93 100.05 504.07 101.16 504.22 100.5 504.36 102.6 504.5 101.13 504.64 103.37 504.79 96.79 504.93 97.82 505.07 98.08 505.22 99.34 505.36 98.39 505.5 97.89 505.64 98.33 505.79 98.52 505.93 101.31 506.07 99.28 506.22 100.62 506.36 101.52 506.5 101.46 506.64 98.94 506.79 97.82 506.93 101.52 507.07 96.98 507.22 97.51 507.36 100.19 507.5 100.35 507.64 99.77 507.79 98.16 507.93 99.96 508.07 100.99 508.22 98.78 508.36 102.42 508.5 99.3 508.64 97.9 508.79 99.22 508.93 98.47 509.07 99.06 509.22 98.66 509.36 99.44 509.5 100.8 509.64 99.99 509.79 99.71 509.93 97.93 510.07 97.62 510.22 99.57 510.36 101.45 510.5 101.3 510.64 100.43 510.79 98.04 510.93 99.56 511.07 100.25 511.22 101.37 511.36 99.04 511.5 99.93 511.64 100.53 511.79 100.36 511.93 98.05 512.07 100.89 512.22 98.4 512.36 99.07 512.5 100.83 512.64 99.57 512.79 101.27 512.93 102.42 513.07 101.73 513.22 102.52 513.36 100.58 513.5 101.27 513.64 100.22 513.79 99.88 513.93 105.57 514.07 100.57 514.22 103.69 514.36 100.81 514.5 102.38 514.64 100.77 514.79 98.87 514.93 103.39 515.07 100.72 515.22 101.08 515.36 103.7 515.5 100.08 515.64 100.77 515.79 101.44 515.93 101.73 516.07 96.22 516.22 101.37 516.36 103.15 516.5 101.86 516.64 100.93 516.79 101.05 516.93 100.69 517.07 102.11 517.22 99.99 517.36 101.52 517.5 102.77 517.64 102.16 517.79 101.46 517.93 99.9 518.07 100.36 518.21 101.69 518.36 101.2 518.5 100.93 518.64 98.34 518.79 102.11 518.93 100.57 519.07 100.18 519.21 102.55 519.36 100.96 519.5 100.95 519.64 101.75 519.79 100.3 519.93 99.58 520.07 99.66 520.21 101.63 520.36 101.19 520.5 98.09 520.64 103.01 520.79 100.78 520.93 99.74 521.07 100.74 521.21 99.88 521.36 100.73 521.5 99.79 521.64 98.96 521.79 101.01 521.93 100.42 522.07 100.68 522.21 101.3 522.36 100.81 522.5 102.34 522.64 99.7 522.79 98.53 522.93 98.52 523.07 99.21 523.21 102.39 523.36 98.86 523.5 102.16 523.64 101.08 523.79 98.47 523.93 102.53 524.07 99.81 524.21 100.7 524.36 101.57 524.5 102.67 524.64 101.04 524.79 102.34 524.93 100.25 525.07 100.1 525.21 103.92 525.36 102.72 525.5 102.29 525.64 103.69 525.79 103.51 525.93 101.8 526.07 102.18 526.21 104.27 526.36 102.84 526.5 101.26 526.64 103.74 526.79 103.35 526.93 100.01 527.07 100.48 527.21 104.63 527.36 104.11 527.5 101.58 527.64 103.84 527.79 102.4 527.93 102.73 528.07 101.29 528.21 105.52 528.36 105.08 528.5 103.73 528.64 100.59 528.79 102.16 528.93 104.32 529.07 101.53 529.21 100.98 529.36 102.34 529.5 102.4 529.64 101.4 529.79 100.24 529.93 101.69 530.07 101.13 530.21 101.88 530.36 102.43 530.5 103.08 530.64 101.24 530.79 101.95 530.93 102.03 531.07 100.52 531.21 101 531.36 100.62 531.5 103.98 531.64 101.09 531.79 102.54 531.93 102.91 532.07 102.85 532.21 100.07 532.36 100.68 532.5 102.75 532.64 103.24 532.79 101.91 532.93 102.49 533.07 99.61 533.21 103.95 533.36 104.53 533.5 102.22 533.64 102.04 533.79 101.91 533.93 101.03 534.07 99.27 534.21 102.82 534.36 103.15 534.5 104.83 534.64 102.08 534.79 101.35 534.93 102.86 535.07 100.83 535.21 102.26 535.36 100.31 535.5 102 535.64 103.91 535.79 103.28 535.93 104.46 536.07 104.81 536.21 102.14 536.36 101.21 536.5 99.79 536.64 102.57 536.79 102.78 536.93 103.99 537.07 101.18 537.21 101.96 537.36 103.26 537.5 101.49" fill="none" stroke="#1f77b4" stroke-width="1.95" stroke-linejoin="round" clip-path="url(#clipb)"/>
<rect x="337.65" y="9.3" width="23.65" height="121.3" fill="#ff7f0e" fill-opacity="0.3"/>
<text x="341.6" y="114.0" font-size="15.6" font-family="'Liberation Serif', serif">ASE signal</text>
<path d="M439 26.4H467" stroke="#ff7f0e" stroke-width="1.95"/>
<path d="M439 45.3H467" stroke="#1f77b4" stroke-width="1.95"/>
<text x="476.5" y="30.9" font-size="13.0" text-anchor="start">BOA on</text>
<text x="476.5" y="49.5" font-size="13.0" text-anchor="start">BOA off</text>
<g fill="#ff7f0e" clip-path="url(#clipc)"><rect x="62.69" y="311.77" width="1.72" height="0.48"/><rect x="65.54" y="311.28" width="1.72" height="0.97"/><rect x="66.96" y="311.77" width="1.72" height="0.48"/><rect x="71.23" y="310.8" width="1.72" height="1.45"/><rect x="72.66" y="311.28" width="1.72" height="0.97"/><rect x="74.08" y="311.28" width="1.72" height="0.97"/><rect x="75.5" y="310.8" width="1.72" height="1.45"/><rect x="76.93" y="311.77" width="1.72" height="0.48"/><rect x="78.35" y="311.77" width="1.72" height="0.48"/><rect x="79.78" y="309.83" width="1.72" height="2.42"/><rect x="81.2" y="311.77" width="1.72" height="0.48"/><rect x="82.62" y="309.83" width="1.72" height="2.42"/><rect x="84.05" y="311.77" width="1.72" height="0.48"/><rect x="85.47" y="310.32" width="1.72" height="1.93"/><rect x="86.89" y="309.83" width="1.72" height="2.42"/><rect x="88.32" y="309.83" width="1.72" height="2.42"/><rect x="89.74" y="309.35" width="1.72" height="2.9"/><rect x="91.17" y="309.35" width="1.72" height="2.9"/><rect x="92.59" y="307.9" width="1.72" height="4.35"/><rect x="94.01" y="306.93" width="1.72" height="5.32"/><rect x="95.44" y="306.93" width="1.72" height="5.32"/><rect x="96.86" y="308.87" width="1.72" height="3.38"/><rect x="98.29" y="304.52" width="1.72" height="7.73"/><rect x="99.71" y="303.07" width="1.72" height="9.18"/><rect x="101.13" y="300.65" width="1.72" height="11.6"/><rect x="102.56" y="296.3" width="1.72" height="15.95"/><rect x="103.98" y="297.75" width="1.72" height="14.5"/><rect x="105.41" y="298.72" width="1.72" height="13.53"/><rect x="106.83" y="293.89" width="1.72" height="18.36"/><rect x="108.25" y="296.3" width="1.72" height="15.95"/><rect x="109.68" y="293.4" width="1.72" height="18.85"/><rect x="111.1" y="285.67" width="1.72" height="26.58"/><rect x="112.53" y="292.92" width="1.72" height="19.33"/><rect x="113.95" y="294.37" width="1.72" height="17.88"/><rect x="115.37" y="290.5" width="1.72" height="21.75"/><rect x="116.8" y="290.02" width="1.72" height="22.23"/><rect x="118.22" y="277.94" width="1.72" height="34.31"/><rect x="119.65" y="277.45" width="1.72" height="34.8"/><rect x="121.07" y="287.6" width="1.72" height="24.65"/><rect x="122.49" y="276" width="1.72" height="36.25"/><rect x="123.92" y="283.74" width="1.72" height="28.51"/><rect x="125.34" y="261.99" width="1.72" height="50.26"/><rect x="126.76" y="280.84" width="1.72" height="31.41"/><rect x="128.19" y="266.82" width="1.72" height="45.43"/><rect x="129.61" y="261.5" width="1.72" height="50.75"/><rect x="131.04" y="254.26" width="1.72" height="57.99"/><rect x="132.46" y="259.09" width="1.72" height="53.16"/><rect x="133.88" y="253.29" width="1.72" height="58.96"/><rect x="135.31" y="242.66" width="1.72" height="69.59"/><rect x="136.73" y="258.12" width="1.72" height="54.13"/><rect x="138.16" y="237.34" width="1.72" height="74.91"/><rect x="139.58" y="244.59" width="1.72" height="67.66"/><rect x="141" y="240.72" width="1.72" height="71.53"/><rect x="142.43" y="220.43" width="1.72" height="91.82"/><rect x="143.85" y="238.79" width="1.72" height="73.46"/><rect x="145.28" y="221.88" width="1.72" height="90.37"/><rect x="146.7" y="223.81" width="1.72" height="88.44"/><rect x="148.12" y="236.86" width="1.72" height="75.39"/><rect x="149.55" y="221.39" width="1.72" height="90.86"/><rect x="150.97" y="233.47" width="1.72" height="78.78"/><rect x="152.4" y="219.94" width="1.72" height="92.31"/><rect x="153.82" y="214.14" width="1.72" height="98.11"/><rect x="155.24" y="229.12" width="1.72" height="83.13"/><rect x="156.67" y="230.57" width="1.72" height="81.68"/><rect x="158.09" y="212.69" width="1.72" height="99.56"/><rect x="159.52" y="207.38" width="1.72" height="104.87"/><rect x="160.94" y="190.46" width="1.72" height="121.79"/><rect x="162.36" y="239.76" width="1.72" height="72.49"/><rect x="163.79" y="216.56" width="1.72" height="95.69"/><rect x="165.21" y="206.89" width="1.72" height="105.36"/><rect x="166.63" y="211.73" width="1.72" height="100.52"/><rect x="168.06" y="212.21" width="1.72" height="100.04"/><rect x="169.48" y="195.78" width="1.72" height="116.47"/><rect x="170.91" y="242.17" width="1.72" height="70.08"/><rect x="172.33" y="216.08" width="1.72" height="96.17"/><rect x="173.75" y="223.33" width="1.72" height="88.92"/><rect x="175.18" y="217.53" width="1.72" height="94.72"/><rect x="176.6" y="250.87" width="1.72" height="61.38"/><rect x="178.03" y="222.36" width="1.72" height="89.89"/><rect x="179.45" y="240.72" width="1.72" height="71.53"/><rect x="180.87" y="217.53" width="1.72" height="94.72"/><rect x="182.3" y="233.96" width="1.72" height="78.29"/><rect x="183.72" y="232.51" width="1.72" height="79.74"/><rect x="185.15" y="247.49" width="1.72" height="64.76"/><rect x="186.57" y="252.81" width="1.72" height="59.44"/><rect x="187.99" y="244.59" width="1.72" height="67.66"/><rect x="189.42" y="250.87" width="1.72" height="61.38"/><rect x="190.84" y="259.57" width="1.72" height="52.68"/><rect x="192.27" y="262.47" width="1.72" height="49.78"/><rect x="193.69" y="260.54" width="1.72" height="51.71"/><rect x="195.11" y="265.37" width="1.72" height="46.88"/><rect x="196.54" y="276" width="1.72" height="36.25"/><rect x="197.96" y="262.95" width="1.72" height="49.3"/><rect x="199.39" y="261.99" width="1.72" height="50.26"/><rect x="200.81" y="274.07" width="1.72" height="38.18"/><rect x="202.23" y="274.55" width="1.72" height="37.7"/><rect x="203.66" y="281.8" width="1.72" height="30.45"/><rect x="205.08" y="277.94" width="1.72" height="34.31"/><rect x="206.5" y="273.1" width="1.72" height="39.15"/><rect x="207.93" y="292.44" width="1.72" height="19.81"/><rect x="209.35" y="283.25" width="1.72" height="29"/><rect x="210.78" y="290.99" width="1.72" height="21.26"/><rect x="212.2" y="296.78" width="1.72" height="15.47"/><rect x="213.62" y="293.89" width="1.72" height="18.36"/><rect x="215.05" y="295.33" width="1.72" height="16.92"/><rect x="216.47" y="287.12" width="1.72" height="25.13"/><rect x="217.9" y="298.72" width="1.72" height="13.53"/><rect x="219.32" y="291.95" width="1.72" height="20.3"/><rect x="220.74" y="302.1" width="1.72" height="10.15"/><rect x="222.17" y="299.68" width="1.72" height="12.57"/><rect x="223.59" y="305.48" width="1.72" height="6.77"/><rect x="225.02" y="304.03" width="1.72" height="8.22"/><rect x="226.44" y="303.07" width="1.72" height="9.18"/><rect x="227.86" y="303.07" width="1.72" height="9.18"/><rect x="229.29" y="305.48" width="1.72" height="6.77"/><rect x="230.71" y="307.42" width="1.72" height="4.83"/><rect x="232.14" y="305" width="1.72" height="7.25"/><rect x="233.56" y="308.38" width="1.72" height="3.87"/><rect x="234.98" y="309.35" width="1.72" height="2.9"/><rect x="236.41" y="310.32" width="1.72" height="1.93"/><rect x="237.83" y="309.83" width="1.72" height="2.42"/><rect x="239.26" y="311.28" width="1.72" height="0.97"/><rect x="240.68" y="308.87" width="1.72" height="3.38"/><rect x="242.1" y="309.35" width="1.72" height="2.9"/><rect x="243.53" y="310.32" width="1.72" height="1.93"/><rect x="244.95" y="310.8" width="1.72" height="1.45"/><rect x="246.37" y="310.8" width="1.72" height="1.45"/><rect x="247.8" y="311.28" width="1.72" height="0.97"/><rect x="250.65" y="311.77" width="1.72" height="0.48"/><rect x="252.07" y="311.77" width="1.72" height="0.48"/><rect x="253.49" y="311.77" width="1.72" height="0.48"/><rect x="254.92" y="311.77" width="1.72" height="0.48"/><rect x="264.89" y="311.77" width="1.72" height="0.48"/><rect x="269.16" y="311.77" width="1.72" height="0.48"/></g>
<path d="M63.4 311.98 64.07 311.96 64.73 311.94 65.4 311.91 66.07 311.88 66.73 311.85 67.4 311.82 68.07 311.79 68.73 311.75 69.4 311.72 70.07 311.68 70.73 311.63 71.4 311.59 72.07 311.54 72.73 311.48 73.4 311.43 74.07 311.37 74.73 311.3 75.4 311.23 76.07 311.16 76.73 311.08 77.4 311 78.07 310.92 78.73 310.82 79.4 310.73 80.07 310.62 80.73 310.51 81.4 310.4 82.07 310.27 82.73 310.14 83.4 310.01 84.07 309.86 84.74 309.71 85.4 309.55 86.07 309.38 86.74 309.2 87.4 309.01 88.07 308.81 88.74 308.6 89.4 308.38 90.07 308.15 90.74 307.91 91.4 307.66 92.07 307.39 92.74 307.11 93.4 306.82 94.07 306.52 94.74 306.2 95.4 305.87 96.07 305.52 96.74 305.15 97.4 304.78 98.07 304.38 98.74 303.97 99.4 303.54 100.07 303.09 100.74 302.63 101.4 302.15 102.07 301.65 102.74 301.13 103.4 300.59 104.07 300.03 104.74 299.45 105.4 298.85 106.07 298.24 106.74 297.6 107.4 296.93 108.07 296.25 108.74 295.55 109.4 294.82 110.07 294.07 110.74 293.3 111.4 292.51 112.07 291.69 112.74 290.86 113.4 290 114.07 289.12 114.74 288.21 115.4 287.28 116.07 286.34 116.74 285.37 117.4 284.37 118.07 283.36 118.74 282.33 119.4 281.27 120.07 280.19 120.74 279.1 121.4 277.98 122.07 276.85 122.74 275.7 123.41 274.53 124.07 273.34 124.74 272.14 125.41 270.92 126.07 269.69 126.74 268.44 127.41 267.18 128.07 265.91 128.74 264.63 129.41 263.34 130.07 262.04 130.74 260.73 131.41 259.42 132.07 258.1 132.74 256.78 133.41 255.46 134.07 254.13 134.74 252.8 135.41 251.48 136.07 250.16 136.74 248.85 137.41 247.54 138.07 246.24 138.74 244.95 139.41 243.66 140.07 242.4 140.74 241.14 141.41 239.9 142.07 238.68 142.74 237.48 143.41 236.3 144.07 235.13 144.74 234 145.41 232.89 146.07 231.8 146.74 230.74 147.41 229.71 148.07 228.72 148.74 227.75 149.41 226.82 150.07 225.93 150.74 225.07 151.41 224.25 152.07 223.47 152.74 222.73 153.41 222.03 154.07 221.37 154.74 220.75 155.41 220.18 156.07 219.66 156.74 219.18 157.41 218.75 158.07 218.36 158.74 218.03 159.41 217.74 160.07 217.5 160.74 217.31 161.41 217.17 162.07 217.08 162.74 217.04 163.41 217.06 164.08 217.12 164.74 217.23 165.41 217.39 166.08 217.6 166.74 217.86 167.41 218.17 168.08 218.52 168.74 218.93 169.41 219.38 170.08 219.88 170.74 220.42 171.41 221.01 172.08 221.64 172.74 222.32 173.41 223.04 174.08 223.8 174.74 224.59 175.41 225.43 176.08 226.31 176.74 227.22 177.41 228.16 178.08 229.14 178.74 230.15 179.41 231.19 180.08 232.26 180.74 233.36 181.41 234.48 182.08 235.63 182.74 236.8 183.41 237.99 184.08 239.2 184.74 240.43 185.41 241.68 186.08 242.94 186.74 244.21 187.41 245.5 188.08 246.79 188.74 248.1 189.41 249.41 190.08 250.73 190.74 252.05 191.41 253.37 192.08 254.7 192.74 256.02 193.41 257.34 194.08 258.67 194.74 259.98 195.41 261.29 196.08 262.6 196.74 263.89 197.41 265.18 198.08 266.46 198.74 267.72 199.41 268.98 200.08 270.22 200.74 271.44 201.41 272.66 202.08 273.85 202.74 275.03 203.41 276.19 204.08 277.34 204.75 278.46 205.41 279.57 206.08 280.66 206.75 281.72 207.41 282.77 208.08 283.8 208.75 284.8 209.41 285.78 210.08 286.74 210.75 287.68 211.41 288.6 212.08 289.49 212.75 290.37 213.41 291.22 214.08 292.04 214.75 292.85 215.41 293.63 216.08 294.39 216.75 295.13 217.41 295.85 218.08 296.55 218.75 297.22 219.41 297.87 220.08 298.5 220.75 299.11 221.41 299.7 222.08 300.27 222.75 300.82 223.41 301.35 224.08 301.86 224.75 302.36 225.41 302.83 226.08 303.29 226.75 303.73 227.41 304.15 228.08 304.55 228.75 304.94 229.41 305.31 230.08 305.67 230.75 306.01 231.41 306.34 232.08 306.65 232.75 306.95 233.41 307.24 234.08 307.51 234.75 307.77 235.41 308.02 236.08 308.25 236.75 308.48 237.41 308.69 238.08 308.9 238.75 309.09 239.41 309.28 240.08 309.45 240.75 309.62 241.41 309.78 242.08 309.92 242.75 310.07 243.42 310.2 244.08 310.33 244.75 310.45 245.42 310.56 246.08 310.67 246.75 310.77 247.42 310.86 248.08 310.95 248.75 311.04 249.42 311.12 250.08 311.19 250.75 311.26 251.42 311.33 252.08 311.39 252.75 311.45 253.42 311.51 254.08 311.56 254.75 311.61 255.42 311.65 256.08 311.69 256.75 311.73 257.42 311.77 258.08 311.8 258.75 311.84 259.42 311.87 260.08 311.9 260.75 311.92 261.42 311.95 262.08 311.97 262.75 311.99" fill="none" stroke="#d62728" stroke-width="2.4" clip-path="url(#clipc)"/>
<g fill="#1f77b4"><rect x="350.14" y="312.03" width="5" height="0.22"/><rect x="355.14" y="311.81" width="5" height="0.44"/><rect x="360.13" y="311.25" width="5" height="1"/><rect x="365.13" y="308.71" width="5" height="3.54"/><rect x="370.13" y="307.38" width="5" height="4.87"/><rect x="375.12" y="306.28" width="5" height="5.97"/><rect x="380.12" y="302.3" width="5" height="9.95"/><rect x="385.11" y="300.53" width="5" height="11.72"/><rect x="390.11" y="296.32" width="5" height="15.93"/><rect x="395.11" y="285.37" width="5" height="26.88"/><rect x="400.1" y="287.14" width="5" height="25.11"/><rect x="405.1" y="263.69" width="5" height="48.56"/><rect x="410.1" y="267.9" width="5" height="44.35"/><rect x="415.09" y="260.48" width="5" height="51.77"/><rect x="420.09" y="240.35" width="5" height="71.9"/><rect x="425.08" y="243.34" width="5" height="68.91"/><rect x="430.08" y="201.09" width="5" height="111.16"/><rect x="435.08" y="235.27" width="5" height="76.98"/><rect x="440.07" y="245" width="5" height="67.25"/><rect x="445.07" y="226.53" width="5" height="85.72"/><rect x="450.07" y="248.32" width="5" height="63.93"/><rect x="455.06" y="252.52" width="5" height="59.73"/><rect x="460.06" y="247.99" width="5" height="64.26"/><rect x="465.05" y="274.31" width="5" height="37.94"/><rect x="470.05" y="272.76" width="5" height="39.49"/><rect x="475.05" y="286.15" width="5" height="26.1"/><rect x="480.04" y="294.66" width="5" height="17.59"/><rect x="485.04" y="294.66" width="5" height="17.59"/><rect x="490.04" y="299.86" width="5" height="12.39"/><rect x="495.03" y="304.51" width="5" height="7.74"/><rect x="500.03" y="305.72" width="5" height="6.53"/><rect x="505.02" y="308.71" width="5" height="3.54"/><rect x="510.02" y="310.59" width="5" height="1.66"/><rect x="515.02" y="311.48" width="5" height="0.77"/><rect x="520.01" y="312.03" width="5" height="0.22"/></g>
<path d="M63.4 130.6V135.1M113.22 130.6V135.1M163.05 130.6V135.1M212.88 130.6V135.1M262.7 130.6V135.1M63.4 113.89H58.9M63.4 70.39H58.9M63.4 26.88H58.9" stroke="#000" stroke-width="1.05" fill="none"/>
<rect x="63.4" y="9.3" width="199.3" height="121.3" fill="none" stroke="#000" stroke-width="1.05"/>
<text x="63.4" y="149.98" font-size="13.0" text-anchor="middle">0</text>
<text x="113.22" y="149.98" font-size="13.0" text-anchor="middle">1</text>
<text x="163.05" y="149.98" font-size="13.0" text-anchor="middle">2</text>
<text x="212.88" y="149.98" font-size="13.0" text-anchor="middle">3</text>
<text x="262.7" y="149.98" font-size="13.0" text-anchor="middle">4</text>
<text x="54.4" y="118.63" font-size="13.0" text-anchor="end">−50</text>
<text x="54.4" y="75.12" font-size="13.0" text-anchor="end">0</text>
<text x="54.4" y="31.62" font-size="13.0" text-anchor="end">50</text>
<text x="163.05" y="167.7" font-size="13.0" text-anchor="middle">Time (<tspan font-style="italic">μ</tspan>s)</text>
<text x="0" y="0" font-size="13.0" text-anchor="middle" transform="translate(18.4 69.95) rotate(-90)">Amplitude (mV)</text>
<path d="M337.65 130.6V135.1M404.27 130.6V135.1M470.88 130.6V135.1M537.5 130.6V135.1M337.65 130.6H333.15M337.65 100.27H333.15M337.65 69.95H333.15M337.65 39.62H333.15M337.65 9.3H333.15" stroke="#000" stroke-width="1.05" fill="none"/>
<rect x="337.65" y="9.3" width="199.85" height="121.3" fill="none" stroke="#000" stroke-width="1.05"/>
<text x="337.65" y="149.98" font-size="13.0" text-anchor="middle">0</text>
<text x="404.27" y="149.98" font-size="13.0" text-anchor="middle">2</text>
<text x="470.88" y="149.98" font-size="13.0" text-anchor="middle">4</text>
<text x="537.5" y="149.98" font-size="13.0" text-anchor="middle">6</text>
<text x="328.65" y="135.34" font-size="13.0" text-anchor="end">0.0</text>
<text x="328.65" y="105.01" font-size="13.0" text-anchor="end">0.5</text>
<text x="328.65" y="74.69" font-size="13.0" text-anchor="end">1.0</text>
<text x="328.65" y="44.36" font-size="13.0" text-anchor="end">1.5</text>
<text x="328.65" y="14.04" font-size="13.0" text-anchor="end">2.0</text>
<text x="437.57" y="167.7" font-size="13.0" text-anchor="middle">Frequency (GHz)</text>
<text x="0" y="0" font-size="13.0" text-anchor="middle" transform="translate(300 69.95) rotate(-90)">Intensity</text>
<path d="M91.88 312.25V316.75M163.07 312.25V316.75M234.27 312.25V316.75M63.4 312.25H58.9M63.4 263.92H58.9M63.4 215.59H58.9" stroke="#000" stroke-width="1.05" fill="none"/>
<rect x="63.4" y="190.8" width="199.35" height="121.45" fill="none" stroke="#000" stroke-width="1.05"/>
<text x="91.88" y="331.63" font-size="13.0" text-anchor="middle">−50</text>
<text x="163.07" y="331.63" font-size="13.0" text-anchor="middle">0</text>
<text x="234.27" y="331.63" font-size="13.0" text-anchor="middle">50</text>
<text x="54.4" y="316.99" font-size="13.0" text-anchor="end">0</text>
<text x="54.4" y="268.66" font-size="13.0" text-anchor="end">100</text>
<text x="54.4" y="220.33" font-size="13.0" text-anchor="end">200</text>
<text x="163.07" y="349.35" font-size="13.0" text-anchor="middle">A/D bin</text>
<text x="0" y="0" font-size="13.0" text-anchor="middle" transform="translate(20.6 251.53) rotate(-90)">Counts</text>
<path d="M337.65 312.25V316.75M387.61 312.25V316.75M437.57 312.25V316.75M487.54 312.25V316.75M537.5 312.25V316.75M337.65 312.25H333.15M337.65 256.94H333.15M337.65 201.64H333.15" stroke="#000" stroke-width="1.05" fill="none"/>
<rect x="337.65" y="190.8" width="199.85" height="121.45" fill="none" stroke="#000" stroke-width="1.05"/>
<text x="337.65" y="331.63" font-size="13.0" text-anchor="middle">−20</text>
<text x="387.61" y="331.63" font-size="13.0" text-anchor="middle">−10</text>
<text x="437.57" y="331.63" font-size="13.0" text-anchor="middle">0</text>
<text x="487.54" y="331.63" font-size="13.0" text-anchor="middle">10</text>
<text x="537.5" y="331.63" font-size="13.0" text-anchor="middle">20</text>
<text x="328.65" y="316.99" font-size="13.0" text-anchor="end">0</text>
<text x="328.65" y="261.68" font-size="13.0" text-anchor="end">500</text>
<text x="328.65" y="206.38" font-size="13.0" text-anchor="end">1000</text>
<text x="437.57" y="349.35" font-size="13.0" text-anchor="middle">A/D bin</text>
<text x="0" y="0" font-size="13.0" text-anchor="middle" transform="translate(288.3 251.53) rotate(-90)">Counts</text>
<text x="63.8" y="22.8" font-size="14.0">a<tspan font-size="15.6" dy="0.6">)</tspan></text>
<text x="342.5" y="21.9" font-size="14.0">b<tspan font-size="15.6" dy="0.6">)</tspan></text>
<text x="66" y="204.8" font-size="14.0">c<tspan font-size="15.6" dy="0.6">)</tspan></text>
<text x="340.3" y="203.8" font-size="14.0">d<tspan font-size="15.6" dy="0.6">)</tspan></text></svg>
</body></html>
